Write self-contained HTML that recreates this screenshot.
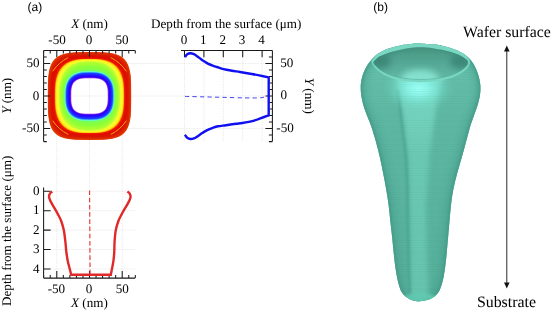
<!DOCTYPE html>
<html lang="en"><head><meta charset="utf-8"><title>Figure</title>
<style>
html,body{margin:0;padding:0;background:#fff;}
body{width:551px;height:311px;overflow:hidden;}
svg{display:block;}
.s{font-family:"Liberation Serif","Times New Roman",serif;font-size:13.1px;fill:#000;}
.b{font-family:"Liberation Serif","Times New Roman",serif;font-size:15.9px;fill:#000;}
.h{font-family:"Liberation Sans",Arial,sans-serif;font-size:12px;fill:#000;}
text{text-rendering:geometricPrecision;}
.i{font-style:italic;}
.ax{stroke:#1a1a1a;stroke-width:1.05;fill:none;}
.g{stroke:#d6d6d6;stroke-width:0.6;stroke-dasharray:0.8 0.8;fill:none;}
</style></head><body>
<svg width="551" height="311" viewBox="0 0 551 311">
<defs>
<filter id="bl1" x="-20%" y="-20%" width="140%" height="140%"><feGaussianBlur stdDeviation="0.5"/></filter>
<filter id="bl3" x="-30%" y="-30%" width="160%" height="160%"><feGaussianBlur stdDeviation="3"/></filter>
<filter id="bl5" x="-30%" y="-30%" width="160%" height="160%"><feGaussianBlur stdDeviation="5"/></filter>
<filter id="bl2" x="-30%" y="-30%" width="160%" height="160%"><feGaussianBlur stdDeviation="1.6"/></filter>
<filter id="bl03" x="-30%" y="-30%" width="160%" height="160%"><feGaussianBlur stdDeviation="0.35"/></filter>
<filter id="bl25" x="-40%" y="-10%" width="180%" height="120%"><feGaussianBlur stdDeviation="2.6 1.5"/></filter>
<filter id="bl08" x="-30%" y="-30%" width="160%" height="160%"><feGaussianBlur stdDeviation="0.8"/></filter>
</defs>
<rect x="0" y="0" width="551" height="311" fill="#ffffff"/>
<path class="g" d="M56.79 50.4V278.1M43.6 128.57H272.4M89.5 50.4V278.1M43.6 96H272.4M122.21 50.4V278.1M43.6 63.43H272.4M184.5 50.4V141.6M43.6 191.3H135.2M203.9 50.4V141.6M43.6 210.7H135.2M223.3 50.4V141.6M43.6 230.1H135.2M242.7 50.4V141.6M43.6 249.5H135.2M262.1 50.4V141.6M43.6 268.9H135.2"/>
<g>
<path d="M131.2 96L131.07 110.28L130.66 116.31L129.98 120.87L129.03 124.61L127.79 127.76L126.26 130.45L124.41 132.75L122.23 134.69L119.67 136.31L116.68 137.61L113.13 138.62L108.8 139.33L103.07 139.76L89.5 139.9L75.93 139.76L70.2 139.33L65.87 138.62L62.32 137.61L59.33 136.31L56.77 134.69L54.59 132.75L52.74 130.45L51.21 127.76L49.97 124.61L49.02 120.87L48.34 116.31L47.93 110.28L47.8 96L47.93 81.72L48.34 75.69L49.02 71.13L49.97 67.39L51.21 64.24L52.74 61.55L54.59 59.25L56.77 57.31L59.33 55.69L62.32 54.39L65.87 53.38L70.2 52.67L75.93 52.24L89.5 52.1L103.07 52.24L108.8 52.67L113.13 53.38L116.68 54.39L119.67 55.69L122.23 57.31L124.41 59.25L126.26 61.55L127.79 64.24L129.03 67.39L129.98 71.13L130.66 75.69L131.07 81.72Z" fill="#e63e00"/>
<path d="M130.85 96L130.72 110.06L130.31 116.04L129.64 120.57L128.68 124.29L127.45 127.43L125.92 130.11L124.08 132.4L121.9 134.33L119.36 135.94L116.37 137.24L112.84 138.25L108.54 138.96L102.86 139.38L89.5 139.53L76.14 139.38L70.46 138.96L66.16 138.25L62.63 137.24L59.64 135.94L57.1 134.33L54.92 132.4L53.08 130.11L51.55 127.43L50.32 124.29L49.36 120.57L48.69 116.04L48.28 110.06L48.15 96L48.28 81.94L48.69 75.96L49.36 71.43L50.32 67.71L51.55 64.57L53.08 61.89L54.92 59.6L57.1 57.67L59.64 56.06L62.63 54.76L66.16 53.75L70.46 53.04L76.14 52.62L89.5 52.48L102.86 52.62L108.54 53.04L112.84 53.75L116.37 54.76L119.36 56.06L121.9 57.67L124.08 59.6L125.92 61.89L127.45 64.57L128.68 67.71L129.64 71.43L130.31 75.96L130.72 81.94Z" fill="#e43800"/>
<path d="M130.5 96L130.37 109.84L129.96 115.77L129.29 120.27L128.34 123.96L127.11 127.09L125.58 129.76L123.74 132.04L121.58 133.97L119.04 135.58L116.07 136.87L112.56 137.87L108.28 138.58L102.65 139.01L89.5 139.15L76.35 139.01L70.72 138.58L66.44 137.87L62.93 136.87L59.96 135.58L57.42 133.97L55.26 132.04L53.42 129.76L51.89 127.09L50.66 123.96L49.71 120.27L49.04 115.77L48.63 109.84L48.5 96L48.63 82.16L49.04 76.23L49.71 71.73L50.66 68.04L51.89 64.91L53.42 62.24L55.26 59.96L57.42 58.03L59.96 56.42L62.93 55.13L66.44 54.13L70.72 53.42L76.35 52.99L89.5 52.85L102.65 52.99L108.28 53.42L112.56 54.13L116.07 55.13L119.04 56.42L121.58 58.03L123.74 59.96L125.58 62.24L127.11 64.91L128.34 68.04L129.29 71.73L129.96 76.23L130.37 82.16Z" fill="#e13200"/>
<path d="M130.15 96L130.02 109.61L129.61 115.5L128.94 119.97L127.99 123.64L126.76 126.75L125.24 129.41L123.41 131.69L121.25 133.61L118.73 135.21L115.77 136.51L112.28 137.5L108.03 138.21L102.44 138.63L89.5 138.78L76.56 138.63L70.97 138.21L66.72 137.5L63.23 136.51L60.27 135.21L57.75 133.61L55.59 131.69L53.76 129.41L52.24 126.75L51.01 123.64L50.06 119.97L49.39 115.5L48.98 109.61L48.85 96L48.98 82.39L49.39 76.5L50.06 72.03L51.01 68.36L52.24 65.25L53.76 62.59L55.59 60.31L57.75 58.39L60.27 56.79L63.23 55.49L66.72 54.5L70.97 53.79L76.56 53.37L89.5 53.23L102.44 53.37L108.03 53.79L112.28 54.5L115.77 55.49L118.73 56.79L121.25 58.39L123.41 60.31L125.24 62.59L126.76 65.25L127.99 68.36L128.94 72.03L129.61 76.5L130.02 82.39Z" fill="#de2c00"/>
<path d="M129.8 96L129.67 109.39L129.27 115.23L128.59 119.67L127.65 123.32L126.42 126.42L124.9 129.07L123.08 131.33L120.93 133.25L118.41 134.85L115.47 136.14L111.99 137.13L107.77 137.84L102.23 138.26L89.5 138.4L76.77 138.26L71.23 137.84L67.01 137.13L63.53 136.14L60.59 134.85L58.07 133.25L55.92 131.33L54.1 129.07L52.58 126.42L51.35 123.32L50.41 119.67L49.73 115.23L49.33 109.39L49.2 96L49.33 82.61L49.73 76.77L50.41 72.33L51.35 68.68L52.58 65.58L54.1 62.93L55.92 60.67L58.07 58.75L60.59 57.15L63.53 55.86L67.01 54.87L71.23 54.16L76.77 53.74L89.5 53.6L102.23 53.74L107.77 54.16L111.99 54.87L115.47 55.86L118.41 57.15L120.93 58.75L123.08 60.67L124.9 62.93L126.42 65.58L127.65 68.68L128.59 72.33L129.27 76.77L129.67 82.61Z" fill="#dc2600"/>
<path d="M129.35 96L129.22 108.95L128.81 114.73L128.13 119.16L127.18 122.81L125.94 125.91L124.42 128.57L122.58 130.85L120.42 132.78L117.9 134.39L114.95 135.69L111.48 136.69L107.28 137.41L101.8 137.83L89.5 137.97L77.2 137.83L71.72 137.41L67.52 136.69L64.05 135.69L61.1 134.39L58.58 132.78L56.42 130.85L54.58 128.57L53.06 125.91L51.82 122.81L50.87 119.16L50.19 114.73L49.78 108.95L49.65 96L49.78 83.05L50.19 77.27L50.87 72.84L51.82 69.19L53.06 66.09L54.58 63.43L56.42 61.15L58.58 59.22L61.1 57.61L64.05 56.31L67.52 55.31L71.72 54.59L77.2 54.17L89.5 54.02L101.8 54.17L107.28 54.59L111.48 55.31L114.95 56.31L117.9 57.61L120.42 59.22L122.58 61.15L124.42 63.43L125.94 66.09L127.18 69.19L128.13 72.84L128.81 77.27L129.22 83.05Z" fill="#da2200"/>
<path d="M128.9 96L128.76 108.52L128.36 114.24L127.67 118.64L126.71 122.29L125.47 125.4L123.93 128.07L122.09 130.36L119.91 132.31L117.38 133.93L114.43 135.24L110.97 136.26L106.79 136.98L101.37 137.41L89.5 137.55L77.63 137.41L72.21 136.98L68.03 136.26L64.57 135.24L61.62 133.93L59.09 132.31L56.91 130.36L55.07 128.07L53.53 125.4L52.29 122.29L51.33 118.64L50.64 114.24L50.24 108.52L50.1 96L50.24 83.48L50.64 77.76L51.33 73.36L52.29 69.71L53.53 66.6L55.07 63.93L56.91 61.64L59.09 59.69L61.62 58.07L64.57 56.76L68.03 55.74L72.21 55.02L77.63 54.59L89.5 54.45L101.37 54.59L106.79 55.02L110.97 55.74L114.43 56.76L117.38 58.07L119.91 59.69L122.09 61.64L123.93 63.93L125.47 66.6L126.71 69.71L127.67 73.36L128.36 77.76L128.76 83.48Z" fill="#d91e00"/>
<path d="M128.45 96L128.31 108.08L127.9 113.74L127.21 118.13L126.24 121.78L124.99 124.89L123.44 127.57L121.59 129.88L119.4 131.84L116.86 133.47L113.91 134.79L110.46 135.82L106.3 136.54L100.94 136.98L89.5 137.12L78.06 136.98L72.7 136.54L68.54 135.82L65.09 134.79L62.14 133.47L59.6 131.84L57.41 129.88L55.56 127.57L54.01 124.89L52.76 121.78L51.79 118.13L51.1 113.74L50.69 108.08L50.55 96L50.69 83.92L51.1 78.26L51.79 73.87L52.76 70.22L54.01 67.11L55.56 64.43L57.41 62.12L59.6 60.16L62.14 58.53L65.09 57.21L68.54 56.18L72.7 55.46L78.06 55.02L89.5 54.88L100.94 55.02L106.3 55.46L110.46 56.18L113.91 57.21L116.86 58.53L119.4 60.16L121.59 62.12L123.44 64.43L124.99 67.11L126.24 70.22L127.21 73.87L127.9 78.26L128.31 83.92Z" fill="#d81a00"/>
<path d="M128 96L127.86 107.65L127.45 113.25L126.75 117.61L125.77 121.26L124.51 124.38L122.95 127.07L121.08 129.39L118.89 131.36L116.34 133.01L113.39 134.35L109.94 135.38L105.81 136.11L100.52 136.55L89.5 136.7L78.48 136.55L73.19 136.11L69.06 135.38L65.61 134.35L62.66 133.01L60.11 131.36L57.92 129.39L56.05 127.07L54.49 124.38L53.23 121.26L52.25 117.61L51.55 113.25L51.14 107.65L51 96L51.14 84.35L51.55 78.75L52.25 74.39L53.23 70.74L54.49 67.62L56.05 64.93L57.92 62.61L60.11 60.64L62.66 58.99L65.61 57.65L69.06 56.62L73.19 55.89L78.48 55.45L89.5 55.3L100.52 55.45L105.81 55.89L109.94 56.62L113.39 57.65L116.34 58.99L118.89 60.64L121.08 62.61L122.95 64.93L124.51 67.62L125.77 70.74L126.75 74.39L127.45 78.75L127.86 84.35Z" fill="#d61600"/>
<path d="M127.53 96L127.39 107.19L126.97 112.72L126.26 117.05L125.28 120.69L124 123.81L122.43 126.51L120.56 128.83L118.36 130.82L115.8 132.48L112.85 133.83L109.41 134.87L105.31 135.61L100.09 136.05L89.5 136.2L78.91 136.05L73.69 135.61L69.59 134.87L66.15 133.83L63.2 132.48L60.64 130.82L58.44 128.83L56.57 126.51L55 123.81L53.72 120.69L52.74 117.05L52.03 112.72L51.61 107.19L51.48 96L51.61 84.81L52.03 79.28L52.74 74.95L53.72 71.31L55 68.19L56.57 65.49L58.44 63.17L60.64 61.18L63.2 59.52L66.15 58.17L69.59 57.13L73.69 56.39L78.91 55.95L89.5 55.8L100.09 55.95L105.31 56.39L109.41 57.13L112.85 58.17L115.8 59.52L118.36 61.18L120.56 63.17L122.43 65.49L124 68.19L125.28 71.31L126.26 74.95L126.97 79.28L127.39 84.81Z" fill="#da1400"/>
<path d="M127.05 96L126.91 106.74L126.49 112.19L125.78 116.49L124.78 120.12L123.5 123.24L121.92 125.94L120.03 128.28L117.82 130.28L115.26 131.95L112.31 133.3L108.88 134.35L104.81 135.1L99.66 135.55L89.5 135.7L79.34 135.55L74.19 135.1L70.12 134.35L66.69 133.3L63.74 131.95L61.18 130.28L58.97 128.28L57.08 125.94L55.5 123.24L54.22 120.12L53.22 116.49L52.51 112.19L52.09 106.74L51.95 96L52.09 85.26L52.51 79.81L53.22 75.51L54.22 71.88L55.5 68.76L57.08 66.06L58.97 63.72L61.18 61.72L63.74 60.05L66.69 58.7L70.12 57.65L74.19 56.9L79.34 56.45L89.5 56.3L99.66 56.45L104.81 56.9L108.88 57.65L112.31 58.7L115.26 60.05L117.82 61.72L120.03 63.72L121.92 66.06L123.5 68.76L124.78 71.88L125.78 75.51L126.49 79.81L126.91 85.26Z" fill="#dd1100"/>
<path d="M126.58 96L126.43 106.29L126 111.66L125.29 115.93L124.29 119.54L122.99 122.66L121.4 125.38L119.5 127.72L117.28 129.73L114.72 131.41L111.77 132.78L108.35 133.84L104.31 134.6L99.24 135.05L89.5 135.2L79.76 135.05L74.69 134.6L70.65 133.84L67.23 132.78L64.28 131.41L61.72 129.73L59.5 127.72L57.6 125.38L56.01 122.66L54.71 119.54L53.71 115.93L53 111.66L52.57 106.29L52.42 96L52.57 85.71L53 80.34L53.71 76.07L54.71 72.46L56.01 69.34L57.6 66.62L59.5 64.28L61.72 62.27L64.28 60.59L67.23 59.22L70.65 58.16L74.69 57.4L79.76 56.95L89.5 56.8L99.24 56.95L104.31 57.4L108.35 58.16L111.77 59.22L114.72 60.59L117.28 62.27L119.5 64.28L121.4 66.62L122.99 69.34L124.29 72.46L125.29 76.07L126 80.34L126.43 85.71Z" fill="#e00e00"/>
<path d="M126.1 96L125.96 105.85L125.52 111.13L124.8 115.36L123.79 118.97L122.49 122.09L120.88 124.81L118.97 127.16L116.74 129.18L114.17 130.88L111.22 132.26L107.81 133.33L103.81 134.09L98.81 134.55L89.5 134.7L80.19 134.55L75.19 134.09L71.19 133.33L67.78 132.26L64.83 130.88L62.26 129.18L60.03 127.16L58.12 124.81L56.51 122.09L55.21 118.97L54.2 115.36L53.48 111.13L53.04 105.85L52.9 96L53.04 86.15L53.48 80.87L54.2 76.64L55.21 73.03L56.51 69.91L58.12 67.19L60.03 64.84L62.26 62.82L64.83 61.12L67.78 59.74L71.19 58.67L75.19 57.91L80.19 57.45L89.5 57.3L98.81 57.45L103.81 57.91L107.81 58.67L111.22 59.74L114.17 61.12L116.74 62.82L118.97 64.84L120.88 67.19L122.49 69.91L123.79 73.03L124.8 76.64L125.52 80.87L125.96 86.15Z" fill="#e40c00"/>
<path d="M125.7 96L125.56 105.55L125.12 110.77L124.4 114.98L123.38 118.57L122.07 121.69L120.46 124.41L118.55 126.78L116.32 128.8L113.75 130.51L110.8 131.89L107.42 132.97L103.44 133.74L98.51 134.2L89.5 134.35L80.49 134.2L75.56 133.74L71.58 132.97L68.2 131.89L65.25 130.51L62.68 128.8L60.45 126.78L58.54 124.41L56.93 121.69L55.62 118.57L54.6 114.98L53.88 110.77L53.44 105.55L53.3 96L53.44 86.45L53.88 81.23L54.6 77.02L55.62 73.43L56.93 70.31L58.54 67.59L60.45 65.22L62.68 63.2L65.25 61.49L68.2 60.11L71.58 59.03L75.56 58.26L80.49 57.8L89.5 57.65L98.51 57.8L103.44 58.26L107.42 59.03L110.8 60.11L113.75 61.49L116.32 63.2L118.55 65.22L120.46 67.59L122.07 70.31L123.38 73.43L124.4 77.02L125.12 81.23L125.56 86.45Z" fill="#e61100"/>
<path d="M125.3 96L125.15 105.25L124.72 110.41L123.99 114.59L122.97 118.17L121.66 121.29L120.04 124.02L118.13 126.39L115.89 128.42L113.33 130.13L110.39 131.53L107.02 132.61L103.08 133.38L98.22 133.85L89.5 134L80.78 133.85L75.92 133.38L71.98 132.61L68.61 131.53L65.67 130.13L63.11 128.42L60.87 126.39L58.96 124.02L57.34 121.29L56.03 118.17L55.01 114.59L54.28 110.41L53.85 105.25L53.7 96L53.85 86.75L54.28 81.59L55.01 77.41L56.03 73.83L57.34 70.71L58.96 67.98L60.87 65.61L63.11 63.58L65.67 61.87L68.61 60.47L71.98 59.39L75.92 58.62L80.78 58.15L89.5 58L98.22 58.15L103.08 58.62L107.02 59.39L110.39 60.47L113.33 61.87L115.89 63.58L118.13 65.61L120.04 67.98L121.66 70.71L122.97 73.83L123.99 77.41L124.72 81.59L125.15 86.75Z" fill="#e91600"/>
<path d="M124.9 96L124.75 104.96L124.32 110.05L123.58 114.21L122.56 117.78L121.24 120.89L119.62 123.62L117.7 126L115.47 128.04L112.9 129.76L109.97 131.16L106.62 132.25L102.71 133.03L97.92 133.49L89.5 133.65L81.08 133.49L76.29 133.03L72.38 132.25L69.03 131.16L66.1 129.76L63.53 128.04L61.3 126L59.38 123.62L57.76 120.89L56.44 117.78L55.42 114.21L54.68 110.05L54.25 104.96L54.1 96L54.25 87.04L54.68 81.95L55.42 77.79L56.44 74.22L57.76 71.11L59.38 68.38L61.3 66L63.53 63.96L66.1 62.24L69.03 60.84L72.38 59.75L76.29 58.97L81.08 58.51L89.5 58.35L97.92 58.51L102.71 58.97L106.62 59.75L109.97 60.84L112.9 62.24L115.47 63.96L117.7 66L119.62 68.38L121.24 71.11L122.56 74.22L123.58 77.79L124.32 81.95L124.75 87.04Z" fill="#ec1b00"/>
<path d="M124.5 96L124.35 104.66L123.91 109.7L123.18 113.82L122.15 117.38L120.83 120.49L119.2 123.22L117.28 125.61L115.04 127.66L112.48 129.38L109.56 130.79L106.22 131.89L102.35 132.67L97.63 133.14L89.5 133.3L81.37 133.14L76.65 132.67L72.78 131.89L69.44 130.79L66.52 129.38L63.96 127.66L61.72 125.61L59.8 123.22L58.17 120.49L56.85 117.38L55.82 113.82L55.09 109.7L54.65 104.66L54.5 96L54.65 87.34L55.09 82.3L55.82 78.18L56.85 74.62L58.17 71.51L59.8 68.78L61.72 66.39L63.96 64.34L66.52 62.62L69.44 61.21L72.78 60.11L76.65 59.33L81.37 58.86L89.5 58.7L97.63 58.86L102.35 59.33L106.22 60.11L109.56 61.21L112.48 62.62L115.04 64.34L117.28 66.39L119.2 68.78L120.83 71.51L122.15 74.62L123.18 78.18L123.91 82.3L124.35 87.34Z" fill="#ee2000"/>
<path d="M124.33 96L124.18 104.53L123.74 109.54L123 113.65L121.97 117.21L120.64 120.32L119.01 123.06L117.09 125.45L114.85 127.51L112.28 129.24L109.37 130.66L106.04 131.76L102.18 132.55L97.49 133.02L89.5 133.18L81.51 133.02L76.82 132.55L72.96 131.76L69.63 130.66L66.72 129.24L64.15 127.51L61.91 125.45L59.99 123.06L58.36 120.32L57.03 117.21L56 113.65L55.26 109.54L54.82 104.53L54.67 96L54.82 87.47L55.26 82.46L56 78.35L57.03 74.79L58.36 71.68L59.99 68.94L61.91 66.55L64.15 64.49L66.72 62.76L69.63 61.34L72.96 60.24L76.82 59.45L81.51 58.98L89.5 58.83L97.49 58.98L102.18 59.45L106.04 60.24L109.37 61.34L112.28 62.76L114.85 64.49L117.09 66.55L119.01 68.94L120.64 71.68L121.97 74.79L123 78.35L123.74 82.46L124.18 87.47Z" fill="#f24000"/>
<path d="M124.15 96L124 104.4L123.56 109.38L122.82 113.48L121.78 117.03L120.45 120.15L118.82 122.9L116.89 125.29L114.65 127.36L112.09 129.1L109.17 130.52L105.85 131.63L102.01 132.42L97.35 132.89L89.5 133.05L81.65 132.89L76.99 132.42L73.15 131.63L69.83 130.52L66.91 129.1L64.35 127.36L62.11 125.29L60.18 122.9L58.55 120.15L57.22 117.03L56.18 113.48L55.44 109.38L55 104.4L54.85 96L55 87.6L55.44 82.62L56.18 78.52L57.22 74.97L58.55 71.85L60.18 69.1L62.11 66.71L64.35 64.64L66.91 62.9L69.83 61.48L73.15 60.37L76.99 59.58L81.65 59.11L89.5 58.95L97.35 59.11L102.01 59.58L105.85 60.37L109.17 61.48L112.09 62.9L114.65 64.64L116.89 66.71L118.82 69.1L120.45 71.85L121.78 74.97L122.82 78.52L123.56 82.62L124 87.6Z" fill="#f66000"/>
<path d="M123.97 96L123.83 104.26L123.38 109.22L122.64 113.31L121.6 116.86L120.27 119.98L118.64 122.73L116.7 125.13L114.46 127.21L111.89 128.95L108.98 130.38L105.66 131.5L101.84 132.29L97.21 132.77L89.5 132.93L81.79 132.77L77.16 132.29L73.34 131.5L70.02 130.38L67.11 128.95L64.54 127.21L62.3 125.13L60.36 122.73L58.73 119.98L57.4 116.86L56.36 113.31L55.62 109.22L55.17 104.26L55.03 96L55.17 87.74L55.62 82.78L56.36 78.69L57.4 75.14L58.73 72.02L60.36 69.27L62.3 66.87L64.54 64.79L67.11 63.05L70.02 61.62L73.34 60.5L77.16 59.71L81.79 59.23L89.5 59.08L97.21 59.23L101.84 59.71L105.66 60.5L108.98 61.62L111.89 63.05L114.46 64.79L116.7 66.87L118.64 69.27L120.27 72.02L121.6 75.14L122.64 78.69L123.38 82.78L123.83 87.74Z" fill="#fb8000"/>
<path d="M123.8 96L123.65 104.13L123.2 109.05L122.46 113.14L121.42 116.69L120.08 119.81L118.45 122.57L116.51 124.98L114.26 127.06L111.7 128.81L108.78 130.25L105.48 131.36L101.67 132.16L97.08 132.64L89.5 132.8L81.92 132.64L77.33 132.16L73.52 131.36L70.22 130.25L67.3 128.81L64.74 127.06L62.49 124.98L60.55 122.57L58.92 119.81L57.58 116.69L56.54 113.14L55.8 109.05L55.35 104.13L55.2 96L55.35 87.87L55.8 82.95L56.54 78.86L57.58 75.31L58.92 72.19L60.55 69.43L62.49 67.02L64.74 64.94L67.3 63.19L70.22 61.75L73.52 60.64L77.33 59.84L81.92 59.36L89.5 59.2L97.08 59.36L101.67 59.84L105.48 60.64L108.78 61.75L111.7 63.19L114.26 64.94L116.51 67.02L118.45 69.43L120.08 72.19L121.42 75.31L122.46 78.86L123.2 82.95L123.65 87.87Z" fill="#ffa000"/>
<path d="M123.62 96L123.48 104L123.03 108.89L122.28 112.97L121.24 116.52L119.9 119.64L118.26 122.4L116.31 124.82L114.07 126.9L111.5 128.67L108.59 130.11L105.29 131.23L101.5 132.03L96.94 132.51L89.5 132.68L82.06 132.51L77.5 132.03L73.71 131.23L70.41 130.11L67.5 128.67L64.93 126.9L62.69 124.82L60.74 122.4L59.1 119.64L57.76 116.52L56.72 112.97L55.97 108.89L55.52 104L55.38 96L55.52 88L55.97 83.11L56.72 79.03L57.76 75.48L59.1 72.36L60.74 69.6L62.69 67.18L64.93 65.1L67.5 63.33L70.41 61.89L73.71 60.77L77.5 59.97L82.06 59.49L89.5 59.33L96.94 59.49L101.5 59.97L105.29 60.77L108.59 61.89L111.5 63.33L114.07 65.1L116.31 67.18L118.26 69.6L119.9 72.36L121.24 75.48L122.28 79.03L123.03 83.11L123.48 88Z" fill="#ffb408"/>
<path d="M123.45 96L123.3 103.86L122.85 108.73L122.1 112.8L121.05 116.34L119.71 119.47L118.06 122.24L116.12 124.66L113.87 126.75L111.3 128.52L108.4 129.97L105.1 131.1L101.33 131.9L96.8 132.39L89.5 132.55L82.2 132.39L77.67 131.9L73.9 131.1L70.6 129.97L67.7 128.52L65.13 126.75L62.88 124.66L60.94 122.24L59.29 119.47L57.95 116.34L56.9 112.8L56.15 108.73L55.7 103.86L55.55 96L55.7 88.14L56.15 83.27L56.9 79.2L57.95 75.66L59.29 72.53L60.94 69.76L62.88 67.34L65.13 65.25L67.7 63.48L70.6 62.03L73.9 60.9L77.67 60.1L82.2 59.61L89.5 59.45L96.8 59.61L101.33 60.1L105.1 60.9L108.4 62.03L111.3 63.48L113.87 65.25L116.12 67.34L118.06 69.76L119.71 72.53L121.05 75.66L122.1 79.2L122.85 83.27L123.3 88.14Z" fill="#ffc810"/>
<path d="M123.28 96L123.12 103.73L122.67 108.57L121.92 112.63L120.87 116.17L119.52 119.3L117.87 122.07L115.93 124.5L113.67 126.6L111.11 128.38L108.2 129.83L104.92 130.97L101.16 131.78L96.67 132.26L89.5 132.43L82.33 132.26L77.84 131.78L74.08 130.97L70.8 129.83L67.89 128.38L65.33 126.6L63.07 124.5L61.13 122.07L59.48 119.3L58.13 116.17L57.08 112.63L56.33 108.57L55.88 103.73L55.73 96L55.88 88.27L56.33 83.43L57.08 79.37L58.13 75.83L59.48 72.7L61.13 69.93L63.07 67.5L65.33 65.4L67.89 63.62L70.8 62.17L74.08 61.03L77.84 60.22L82.33 59.74L89.5 59.58L96.67 59.74L101.16 60.22L104.92 61.03L108.2 62.17L111.11 63.62L113.67 65.4L115.93 67.5L117.87 69.93L119.52 72.7L120.87 75.83L121.92 79.37L122.67 83.43L123.12 88.27Z" fill="#ffdc18"/>
<path d="M123.1 96L122.95 103.6L122.5 108.41L121.74 112.45L120.69 115.99L119.34 119.13L117.68 121.9L115.73 124.34L113.48 126.45L110.91 128.23L108.01 129.69L104.73 130.83L100.99 131.65L96.53 132.14L89.5 132.3L82.47 132.14L78.01 131.65L74.27 130.83L70.99 129.69L68.09 128.23L65.52 126.45L63.27 124.34L61.32 121.9L59.66 119.13L58.31 115.99L57.26 112.45L56.5 108.41L56.05 103.6L55.9 96L56.05 88.4L56.5 83.59L57.26 79.55L58.31 76.01L59.66 72.87L61.32 70.1L63.27 67.66L65.52 65.55L68.09 63.77L70.99 62.31L74.27 61.17L78.01 60.35L82.47 59.86L89.5 59.7L96.53 59.86L100.99 60.35L104.73 61.17L108.01 62.31L110.91 63.77L113.48 65.55L115.73 67.66L117.68 70.1L119.34 72.87L120.69 76.01L121.74 79.55L122.5 83.59L122.95 88.4Z" fill="#fff020"/>
<path d="M122.5 96L122.35 103.33L121.9 108.08L121.14 112.1L120.09 115.63L118.74 118.77L117.09 121.55L115.15 124L112.9 126.12L110.35 127.92L107.48 129.39L104.24 130.54L100.56 131.37L96.21 131.86L89.5 132.03L82.79 131.86L78.44 131.37L74.76 130.54L71.52 129.39L68.65 127.92L66.1 126.12L63.85 124L61.91 121.55L60.26 118.77L58.91 115.63L57.86 112.1L57.1 108.08L56.65 103.33L56.5 96L56.65 88.67L57.1 83.92L57.86 79.9L58.91 76.37L60.26 73.23L61.91 70.45L63.85 68L66.1 65.88L68.65 64.08L71.52 62.61L74.76 61.46L78.44 60.63L82.79 60.14L89.5 59.98L96.21 60.14L100.56 60.63L104.24 61.46L107.48 62.61L110.35 64.08L112.9 65.88L115.15 68L117.09 70.45L118.74 73.23L120.09 76.37L121.14 79.9L121.9 83.92L122.35 88.67Z" fill="#fdf424"/>
<path d="M121.9 96L121.75 103.06L121.3 107.74L120.54 111.74L119.49 115.26L118.14 118.4L116.5 121.19L114.56 123.66L112.33 125.79L109.8 127.6L106.96 129.09L103.76 130.25L100.14 131.08L95.9 131.58L89.5 131.75L83.1 131.58L78.86 131.08L75.24 130.25L72.04 129.09L69.2 127.6L66.67 125.79L64.44 123.66L62.5 121.19L60.86 118.4L59.51 115.26L58.46 111.74L57.7 107.74L57.25 103.06L57.1 96L57.25 88.94L57.7 84.26L58.46 80.26L59.51 76.74L60.86 73.6L62.5 70.81L64.44 68.34L66.67 66.21L69.2 64.4L72.04 62.91L75.24 61.75L78.86 60.92L83.1 60.42L89.5 60.25L95.9 60.42L100.14 60.92L103.76 61.75L106.96 62.91L109.8 64.4L112.33 66.21L114.56 68.34L116.5 70.81L118.14 73.6L119.49 76.74L120.54 80.26L121.3 84.26L121.75 88.94Z" fill="#fcf828"/>
<path d="M121.3 96L121.15 102.8L120.7 107.41L119.94 111.37L118.89 114.89L117.55 118.03L115.91 120.84L113.98 123.31L111.76 125.46L109.25 127.29L106.43 128.79L103.28 129.96L99.73 130.8L95.59 131.31L89.5 131.47L83.41 131.31L79.27 130.8L75.72 129.96L72.57 128.79L69.75 127.29L67.24 125.46L65.02 123.31L63.09 120.84L61.45 118.03L60.11 114.89L59.06 111.37L58.3 107.41L57.85 102.8L57.7 96L57.85 89.2L58.3 84.59L59.06 80.63L60.11 77.11L61.45 73.97L63.09 71.16L65.02 68.69L67.24 66.54L69.75 64.71L72.57 63.21L75.72 62.04L79.27 61.2L83.41 60.69L89.5 60.52L95.59 60.69L99.73 61.2L103.28 62.04L106.43 63.21L109.25 64.71L111.76 66.54L113.98 68.69L115.91 71.16L117.55 73.97L118.89 77.11L119.94 80.63L120.7 84.59L121.15 89.2Z" fill="#fafb2c"/>
<path d="M120.7 96L120.55 102.53L120.1 107.08L119.34 111.01L118.29 114.52L116.95 117.66L115.32 120.47L113.4 122.96L111.19 125.13L108.7 126.97L105.91 128.49L102.81 129.67L99.32 130.52L95.29 131.03L89.5 131.2L83.71 131.03L79.68 130.52L76.19 129.67L73.09 128.49L70.3 126.97L67.81 125.13L65.6 122.96L63.68 120.47L62.05 117.66L60.71 114.52L59.66 111.01L58.9 107.08L58.45 102.53L58.3 96L58.45 89.47L58.9 84.92L59.66 80.99L60.71 77.48L62.05 74.34L63.68 71.53L65.6 69.04L67.81 66.87L70.3 65.03L73.09 63.51L76.19 62.33L79.68 61.48L83.71 60.97L89.5 60.8L95.29 60.97L99.32 61.48L102.81 62.33L105.91 63.51L108.7 65.03L111.19 66.87L113.4 69.04L115.32 71.53L116.95 74.34L118.29 77.48L119.34 80.99L120.1 84.92L120.55 89.47Z" fill="#f8ff30"/>
<path d="M120.4 96L120.25 102.38L119.8 106.88L119.04 110.78L118 114.27L116.65 117.41L115.02 120.22L113.11 122.7L110.91 124.87L108.43 126.71L105.65 128.23L102.57 129.42L99.12 130.27L95.14 130.78L89.5 130.95L83.86 130.78L79.88 130.27L76.43 129.42L73.35 128.23L70.57 126.71L68.09 124.87L65.89 122.7L63.98 120.22L62.35 117.41L61 114.27L59.96 110.78L59.2 106.88L58.75 102.38L58.6 96L58.75 89.62L59.2 85.12L59.96 81.22L61 77.73L62.35 74.59L63.98 71.78L65.89 69.3L68.09 67.13L70.57 65.29L73.35 63.77L76.43 62.58L79.88 61.73L83.86 61.22L89.5 61.05L95.14 61.22L99.12 61.73L102.57 62.58L105.65 63.77L108.43 65.29L110.91 67.13L113.11 69.3L115.02 71.78L116.65 74.59L118 77.73L119.04 81.22L119.8 85.12L120.25 89.62Z" fill="#e7ff30"/>
<path d="M120.1 96L119.95 102.23L119.5 106.68L118.74 110.55L117.7 114.03L116.36 117.15L114.73 119.96L112.82 122.44L110.63 124.61L108.15 126.45L105.4 127.97L102.33 129.16L98.92 130.02L94.99 130.53L89.5 130.7L84.01 130.53L80.08 130.02L76.67 129.16L73.6 127.97L70.85 126.45L68.37 124.61L66.18 122.44L64.27 119.96L62.64 117.15L61.3 114.03L60.26 110.55L59.5 106.68L59.05 102.23L58.9 96L59.05 89.77L59.5 85.32L60.26 81.45L61.3 77.97L62.64 74.85L64.27 72.04L66.18 69.56L68.37 67.39L70.85 65.55L73.6 64.03L76.67 62.84L80.08 61.98L84.01 61.47L89.5 61.3L94.99 61.47L98.92 61.98L102.33 62.84L105.4 64.03L108.15 65.55L110.63 67.39L112.82 69.56L114.73 72.04L116.36 74.85L117.7 77.97L118.74 81.45L119.5 85.32L119.95 89.77Z" fill="#d6ff30"/>
<path d="M119.8 96L119.65 102.08L119.2 106.48L118.45 110.33L117.4 113.78L116.06 116.9L114.43 119.7L112.53 122.18L110.34 124.35L107.88 126.2L105.14 127.72L102.1 128.91L98.72 129.76L94.85 130.28L89.5 130.45L84.15 130.28L80.28 129.76L76.9 128.91L73.86 127.72L71.12 126.2L68.66 124.35L66.47 122.18L64.57 119.7L62.94 116.9L61.6 113.78L60.55 110.33L59.8 106.48L59.35 102.08L59.2 96L59.35 89.92L59.8 85.52L60.55 81.67L61.6 78.22L62.94 75.1L64.57 72.3L66.47 69.82L68.66 67.65L71.12 65.8L73.86 64.28L76.9 63.09L80.28 62.24L84.15 61.72L89.5 61.55L94.85 61.72L98.72 62.24L102.1 63.09L105.14 64.28L107.88 65.8L110.34 67.65L112.53 69.82L114.43 72.3L116.06 75.1L117.4 78.22L118.45 81.67L119.2 85.52L119.65 89.92Z" fill="#c5ff30"/>
<path d="M119.5 96L119.35 101.93L118.9 106.28L118.15 110.1L117.1 113.54L115.76 116.64L114.14 119.44L112.24 121.92L110.06 124.09L107.61 125.94L104.88 127.46L101.87 128.66L98.52 129.51L94.7 130.03L89.5 130.2L84.3 130.03L80.48 129.51L77.13 128.66L74.12 127.46L71.39 125.94L68.94 124.09L66.76 121.92L64.86 119.44L63.24 116.64L61.9 113.54L60.85 110.1L60.1 106.28L59.65 101.93L59.5 96L59.65 90.07L60.1 85.72L60.85 81.9L61.9 78.46L63.24 75.36L64.86 72.56L66.76 70.08L68.94 67.91L71.39 66.06L74.12 64.54L77.13 63.34L80.48 62.49L84.3 61.97L89.5 61.8L94.7 61.97L98.52 62.49L101.87 63.34L104.88 64.54L107.61 66.06L110.06 67.91L112.24 70.08L114.14 72.56L115.76 75.36L117.1 78.46L118.15 81.9L118.9 85.72L119.35 90.07Z" fill="#b4ff30"/>
<path d="M118.88 96L118.73 101.75L118.28 105.96L117.55 109.66L116.52 113L115.21 116.01L113.63 118.72L111.76 121.12L109.63 123.23L107.23 125.02L104.56 126.5L101.61 127.65L98.33 128.48L94.6 128.98L89.5 129.15L84.4 128.98L80.67 128.48L77.39 127.65L74.44 126.5L71.77 125.02L69.37 123.23L67.24 121.12L65.37 118.72L63.79 116.01L62.48 113L61.45 109.66L60.72 105.96L60.27 101.75L60.12 96L60.27 90.25L60.72 86.04L61.45 82.34L62.48 79L63.79 75.99L65.37 73.28L67.24 70.88L69.37 68.77L71.77 66.98L74.44 65.5L77.39 64.35L80.67 63.52L84.4 63.02L89.5 62.85L94.6 63.02L98.33 63.52L101.61 64.35L104.56 65.5L107.23 66.98L109.63 68.77L111.76 70.88L113.63 73.28L115.21 75.99L116.52 79L117.55 82.34L118.28 86.04L118.73 90.25Z" fill="#aaff32"/>
<path d="M118.25 96L118.11 101.57L117.67 105.65L116.95 109.23L115.95 112.46L114.67 115.38L113.11 118L111.29 120.33L109.2 122.36L106.85 124.1L104.24 125.53L101.35 126.65L98.14 127.45L94.49 127.94L89.5 128.1L84.51 127.94L80.86 127.45L77.65 126.65L74.76 125.53L72.15 124.1L69.8 122.36L67.71 120.33L65.89 118L64.33 115.38L63.05 112.46L62.05 109.23L61.33 105.65L60.89 101.57L60.75 96L60.89 90.43L61.33 86.35L62.05 82.77L63.05 79.54L64.33 76.62L65.89 74L67.71 71.67L69.8 69.64L72.15 67.9L74.76 66.47L77.65 65.35L80.86 64.55L84.51 64.06L89.5 63.9L94.49 64.06L98.14 64.55L101.35 65.35L104.24 66.47L106.85 67.9L109.2 69.64L111.29 71.67L113.11 74L114.67 76.62L115.95 79.54L116.95 82.77L117.67 86.35L118.11 90.43Z" fill="#a0ff34"/>
<path d="M117.62 96L117.48 101.39L117.06 105.33L116.36 108.8L115.37 111.92L114.12 114.74L112.6 117.28L110.81 119.53L108.77 121.5L106.48 123.18L103.92 124.56L101.09 125.65L97.95 126.43L94.38 126.89L89.5 127.05L84.62 126.89L81.05 126.43L77.91 125.65L75.08 124.56L72.52 123.18L70.23 121.5L68.19 119.53L66.4 117.28L64.88 114.74L63.63 111.92L62.64 108.8L61.94 105.33L61.52 101.39L61.38 96L61.52 90.61L61.94 86.67L62.64 83.2L63.63 80.08L64.88 77.26L66.4 74.72L68.19 72.47L70.23 70.5L72.52 68.82L75.08 67.44L77.91 66.35L81.05 65.57L84.62 65.11L89.5 64.95L94.38 65.11L97.95 65.57L101.09 66.35L103.92 67.44L106.48 68.82L108.77 70.5L110.81 72.47L112.6 74.72L114.12 77.26L115.37 80.08L116.36 83.2L117.06 86.67L117.48 90.61Z" fill="#96ff36"/>
<path d="M117 96L116.86 101.2L116.45 105.02L115.76 108.37L114.8 111.38L113.57 114.11L112.09 116.56L110.34 118.74L108.35 120.64L106.1 122.26L103.6 123.6L100.84 124.65L97.76 125.4L94.27 125.85L89.5 126L84.73 125.85L81.24 125.4L78.16 124.65L75.4 123.6L72.9 122.26L70.65 120.64L68.66 118.74L66.91 116.56L65.43 114.11L64.2 111.38L63.24 108.37L62.55 105.02L62.14 101.2L62 96L62.14 90.8L62.55 86.98L63.24 83.63L64.2 80.62L65.43 77.89L66.91 75.44L68.66 73.26L70.65 71.36L72.9 69.74L75.4 68.4L78.16 67.35L81.24 66.6L84.73 66.15L89.5 66L94.27 66.15L97.76 66.6L100.84 67.35L103.6 68.4L106.1 69.74L108.35 71.36L110.34 73.26L112.09 75.44L113.57 77.89L114.8 80.62L115.76 83.63L116.45 86.98L116.86 90.8Z" fill="#8cff38"/>
<path d="M116.45 96L116.32 101.1L115.91 104.79L115.24 108.02L114.31 110.92L113.12 113.53L111.68 115.88L109.98 117.96L108.04 119.78L105.85 121.33L103.41 122.61L100.71 123.61L97.7 124.32L94.26 124.76L89.5 124.9L84.74 124.76L81.3 124.32L78.29 123.61L75.59 122.61L73.15 121.33L70.96 119.78L69.02 117.96L67.32 115.88L65.88 113.53L64.69 110.92L63.76 108.02L63.09 104.79L62.68 101.1L62.55 96L62.68 90.9L63.09 87.21L63.76 83.98L64.69 81.08L65.88 78.47L67.32 76.12L69.02 74.04L70.96 72.22L73.15 70.67L75.59 69.39L78.29 68.39L81.3 67.68L84.74 67.24L89.5 67.1L94.26 67.24L97.7 67.68L100.71 68.39L103.41 69.39L105.85 70.67L108.04 72.22L109.98 74.04L111.68 76.12L113.12 78.47L114.31 81.08L115.24 83.98L115.91 87.21L116.32 90.9Z" fill="#87ff40"/>
<path d="M115.9 96L115.77 100.99L115.38 104.55L114.73 107.66L113.83 110.44L112.67 112.95L111.27 115.19L109.62 117.18L107.73 118.92L105.59 120.4L103.21 121.62L100.57 122.57L97.62 123.25L94.24 123.66L89.5 123.8L84.76 123.66L81.38 123.25L78.43 122.57L75.79 121.62L73.41 120.4L71.27 118.92L69.38 117.18L67.73 115.19L66.33 112.95L65.17 110.44L64.27 107.66L63.62 104.55L63.23 100.99L63.1 96L63.23 91.01L63.62 87.45L64.27 84.34L65.17 81.56L66.33 79.05L67.73 76.81L69.38 74.82L71.27 73.08L73.41 71.6L75.79 70.38L78.43 69.43L81.38 68.75L84.76 68.34L89.5 68.2L94.24 68.34L97.62 68.75L100.57 69.43L103.21 70.38L105.59 71.6L107.73 73.08L109.62 74.82L111.27 76.81L112.67 79.05L113.83 81.56L114.73 84.34L115.38 87.45L115.77 91.01Z" fill="#82ff48"/>
<path d="M115.35 96L115.22 100.87L114.85 104.31L114.22 107.29L113.34 109.96L112.22 112.35L110.85 114.5L109.25 116.4L107.41 118.05L105.33 119.46L103.01 120.62L100.43 121.53L97.55 122.18L94.22 122.57L89.5 122.7L84.78 122.57L81.45 122.18L78.57 121.53L75.99 120.62L73.67 119.46L71.59 118.05L69.75 116.4L68.15 114.5L66.78 112.35L65.66 109.96L64.78 107.29L64.15 104.31L63.78 100.87L63.65 96L63.78 91.13L64.15 87.69L64.78 84.71L65.66 82.04L66.78 79.65L68.15 77.5L69.75 75.6L71.59 73.95L73.67 72.54L75.99 71.38L78.57 70.47L81.45 69.82L84.78 69.43L89.5 69.3L94.22 69.43L97.55 69.82L100.43 70.47L103.01 71.38L105.33 72.54L107.41 73.95L109.25 75.6L110.85 77.5L112.22 79.65L113.34 82.04L114.22 84.71L114.85 87.69L115.22 91.13Z" fill="#7dff50"/>
<path d="M114.8 96L114.68 100.75L114.31 104.06L113.7 106.92L112.85 109.47L111.76 111.76L110.44 113.8L108.88 115.61L107.09 117.18L105.07 118.52L102.81 119.63L100.29 120.49L97.46 121.1L94.2 121.48L89.5 121.6L84.8 121.48L81.54 121.1L78.71 120.49L76.19 119.63L73.93 118.52L71.91 117.18L70.12 115.61L68.56 113.8L67.24 111.76L66.15 109.47L65.3 106.92L64.69 104.06L64.32 100.75L64.2 96L64.32 91.25L64.69 87.94L65.3 85.08L66.15 82.53L67.24 80.24L68.56 78.2L70.12 76.39L71.91 74.82L73.93 73.48L76.19 72.37L78.71 71.51L81.54 70.9L84.8 70.52L89.5 70.4L94.2 70.52L97.46 70.9L100.29 71.51L102.81 72.37L105.07 73.48L107.09 74.82L108.88 76.39L110.44 78.2L111.76 80.24L112.85 82.53L113.7 85.08L114.31 87.94L114.68 91.25Z" fill="#78ff58"/>
<path d="M114.6 96L114.48 100.78L114.12 104.06L113.52 106.89L112.68 109.4L111.61 111.66L110.31 113.67L108.78 115.45L107.01 116.99L105.02 118.31L102.79 119.39L100.29 120.23L97.49 120.84L94.23 121.2L89.5 121.33L84.77 121.2L81.51 120.84L78.71 120.23L76.21 119.39L73.98 118.31L71.99 116.99L70.22 115.45L68.69 113.67L67.39 111.66L66.32 109.4L65.48 106.89L64.88 104.06L64.52 100.78L64.4 96L64.52 91.22L64.88 87.94L65.48 85.11L66.32 82.6L67.39 80.34L68.69 78.33L70.22 76.55L71.99 75.01L73.98 73.69L76.21 72.61L78.71 71.77L81.51 71.16L84.77 70.8L89.5 70.67L94.23 70.8L97.49 71.16L100.29 71.77L102.79 72.61L105.02 73.69L107.01 75.01L108.78 76.55L110.31 78.33L111.61 80.34L112.68 82.6L113.52 85.11L114.12 87.94L114.48 91.22Z" fill="#72ff74"/>
<path d="M114.4 96L114.28 100.8L113.93 104.06L113.34 106.86L112.52 109.34L111.46 111.56L110.18 113.54L108.67 115.28L106.93 116.8L104.97 118.09L102.76 119.15L100.29 119.98L97.51 120.57L94.27 120.93L89.5 121.05L84.73 120.93L81.49 120.57L78.71 119.98L76.24 119.15L74.03 118.09L72.07 116.8L70.33 115.28L68.82 113.54L67.54 111.56L66.48 109.34L65.66 106.86L65.07 104.06L64.72 100.8L64.6 96L64.72 91.2L65.07 87.94L65.66 85.14L66.48 82.66L67.54 80.44L68.82 78.46L70.33 76.72L72.07 75.2L74.03 73.91L76.24 72.85L78.71 72.02L81.49 71.43L84.73 71.07L89.5 70.95L94.27 71.07L97.51 71.43L100.29 72.02L102.76 72.85L104.97 73.91L106.93 75.2L108.67 76.72L110.18 78.46L111.46 80.44L112.52 82.66L113.34 85.14L113.93 87.94L114.28 91.2Z" fill="#6dff90"/>
<path d="M114.2 96L114.08 100.82L113.74 104.06L113.16 106.82L112.35 109.27L111.31 111.46L110.05 113.4L108.56 115.12L106.85 116.61L104.91 117.88L102.73 118.92L100.29 119.73L97.53 120.31L94.31 120.66L89.5 120.78L84.69 120.66L81.47 120.31L78.71 119.73L76.27 118.92L74.09 117.88L72.15 116.61L70.44 115.12L68.95 113.4L67.69 111.46L66.65 109.27L65.84 106.82L65.26 104.06L64.92 100.82L64.8 96L64.92 91.18L65.26 87.94L65.84 85.18L66.65 82.73L67.69 80.54L68.95 78.6L70.44 76.88L72.15 75.39L74.09 74.12L76.27 73.08L78.71 72.27L81.47 71.69L84.69 71.34L89.5 71.22L94.31 71.34L97.53 71.69L100.29 72.27L102.73 73.08L104.91 74.12L106.85 75.39L108.56 76.88L110.05 78.6L111.31 80.54L112.35 82.73L113.16 85.18L113.74 87.94L114.08 91.18Z" fill="#68ffac"/>
<path d="M114 96L113.89 100.84L113.54 104.05L112.97 106.78L112.18 109.2L111.16 111.35L109.92 113.27L108.45 114.95L106.77 116.42L104.85 117.66L102.7 118.68L100.28 119.47L97.55 120.04L94.34 120.39L89.5 120.5L84.66 120.39L81.45 120.04L78.72 119.47L76.3 118.68L74.15 117.66L72.23 116.42L70.55 114.95L69.08 113.27L67.84 111.35L66.82 109.2L66.03 106.78L65.46 104.05L65.11 100.84L65 96L65.11 91.16L65.46 87.95L66.03 85.22L66.82 82.8L67.84 80.65L69.08 78.73L70.55 77.05L72.23 75.58L74.15 74.34L76.3 73.32L78.72 72.53L81.45 71.96L84.66 71.61L89.5 71.5L94.34 71.61L97.55 71.96L100.28 72.53L102.7 73.32L104.85 74.34L106.77 75.58L108.45 77.05L109.92 78.73L111.16 80.65L112.18 82.8L112.97 85.22L113.54 87.95L113.89 91.16Z" fill="#62ffc8"/>
<path d="M113.83 96L113.71 100.83L113.37 104.02L112.81 106.73L112.02 109.12L111.02 111.24L109.79 113.13L108.34 114.8L106.67 116.25L104.77 117.47L102.64 118.48L100.25 119.26L97.53 119.82L94.34 120.16L89.5 120.28L84.66 120.16L81.47 119.82L78.75 119.26L76.36 118.48L74.23 117.47L72.33 116.25L70.66 114.8L69.21 113.13L67.98 111.24L66.98 109.12L66.19 106.73L65.63 104.02L65.29 100.83L65.17 96L65.29 91.17L65.63 87.98L66.19 85.27L66.98 82.88L67.98 80.76L69.21 78.87L70.66 77.2L72.33 75.75L74.23 74.53L76.36 73.52L78.75 72.74L81.47 72.18L84.66 71.84L89.5 71.72L94.34 71.84L97.53 72.18L100.25 72.74L102.64 73.52L104.77 74.53L106.67 75.75L108.34 77.2L109.79 78.87L111.02 80.76L112.02 82.88L112.81 85.27L113.37 87.98L113.71 91.17Z" fill="#58e7d6"/>
<path d="M113.65 96L113.54 100.82L113.2 103.98L112.65 106.67L111.87 109.03L110.87 111.13L109.66 113L108.23 114.65L106.57 116.08L104.7 117.29L102.58 118.28L100.21 119.05L97.52 119.61L94.34 119.94L89.5 120.05L84.66 119.94L81.48 119.61L78.79 119.05L76.42 118.28L74.3 117.29L72.43 116.08L70.77 114.65L69.34 113L68.13 111.13L67.13 109.03L66.35 106.67L65.8 103.98L65.46 100.82L65.35 96L65.46 91.18L65.8 88.02L66.35 85.33L67.13 82.97L68.13 80.87L69.34 79L70.77 77.35L72.43 75.92L74.3 74.71L76.42 73.72L78.79 72.95L81.48 72.39L84.66 72.06L89.5 71.95L94.34 72.06L97.52 72.39L100.21 72.95L102.58 73.72L104.7 74.71L106.57 75.92L108.23 77.35L109.66 79L110.87 80.87L111.87 82.97L112.65 85.33L113.2 88.02L113.54 91.18Z" fill="#4dd0e4"/>
<path d="M113.47 96L113.36 100.81L113.03 103.95L112.48 106.61L111.72 108.94L110.73 111.02L109.53 112.87L108.11 114.5L106.48 115.9L104.62 117.1L102.53 118.08L100.17 118.84L97.5 119.39L94.34 119.72L89.5 119.83L84.66 119.72L81.5 119.39L78.83 118.84L76.47 118.08L74.38 117.1L72.52 115.9L70.89 114.5L69.47 112.87L68.27 111.02L67.28 108.94L66.52 106.61L65.97 103.95L65.64 100.81L65.53 96L65.64 91.19L65.97 88.05L66.52 85.39L67.28 83.06L68.27 80.98L69.47 79.13L70.89 77.5L72.52 76.1L74.38 74.9L76.47 73.92L78.83 73.16L81.5 72.61L84.66 72.28L89.5 72.17L94.34 72.28L97.5 72.61L100.17 73.16L102.53 73.92L104.62 74.9L106.48 76.1L108.11 77.5L109.53 79.13L110.73 80.98L111.72 83.06L112.48 85.39L113.03 88.05L113.36 91.19Z" fill="#42b8f1"/>
<path d="M113.3 96L113.19 100.8L112.86 103.91L112.32 106.54L111.56 108.86L110.59 110.91L109.4 112.74L108 114.34L106.38 115.73L104.54 116.91L102.47 117.88L100.13 118.63L97.48 119.17L94.34 119.49L89.5 119.6L84.66 119.49L81.52 119.17L78.87 118.63L76.53 117.88L74.46 116.91L72.62 115.73L71 114.34L69.6 112.74L68.41 110.91L67.44 108.86L66.68 106.54L66.14 103.91L65.81 100.8L65.7 96L65.81 91.2L66.14 88.09L66.68 85.46L67.44 83.14L68.41 81.09L69.6 79.26L71 77.66L72.62 76.27L74.46 75.09L76.53 74.12L78.87 73.37L81.52 72.83L84.66 72.51L89.5 72.4L94.34 72.51L97.48 72.83L100.13 73.37L102.47 74.12L104.54 75.09L106.38 76.27L108 77.66L109.4 79.26L110.59 81.09L111.56 83.14L112.32 85.46L112.86 88.09L113.19 91.2Z" fill="#38a0ff"/>
<path d="M113.1 96L112.99 100.79L112.67 103.88L112.13 106.49L111.38 108.78L110.42 110.82L109.25 112.62L107.86 114.21L106.26 115.58L104.45 116.74L102.39 117.7L100.08 118.44L97.45 118.97L94.34 119.29L89.5 119.4L84.66 119.29L81.55 118.97L78.92 118.44L76.61 117.7L74.55 116.74L72.74 115.58L71.14 114.21L69.75 112.62L68.58 110.82L67.62 108.78L66.87 106.49L66.33 103.88L66.01 100.79L65.9 96L66.01 91.21L66.33 88.12L66.87 85.51L67.62 83.22L68.58 81.18L69.75 79.38L71.14 77.79L72.74 76.42L74.55 75.26L76.61 74.3L78.92 73.56L81.55 73.03L84.66 72.71L89.5 72.6L94.34 72.71L97.45 73.03L100.08 73.56L102.39 74.3L104.45 75.26L106.26 76.42L107.86 77.79L109.25 79.38L110.42 81.18L111.38 83.22L112.13 85.51L112.67 88.12L112.99 91.21Z" fill="#3286ff"/>
<path d="M112.9 96L112.79 100.79L112.48 103.85L111.95 106.44L111.21 108.71L110.26 110.72L109.1 112.51L107.73 114.07L106.15 115.43L104.35 116.58L102.32 117.52L100.03 118.25L97.42 118.78L94.33 119.09L89.5 119.2L84.67 119.09L81.58 118.78L78.97 118.25L76.68 117.52L74.65 116.58L72.85 115.43L71.27 114.07L69.9 112.51L68.74 110.72L67.79 108.71L67.05 106.44L66.52 103.85L66.21 100.79L66.1 96L66.21 91.21L66.52 88.15L67.05 85.56L67.79 83.29L68.74 81.28L69.9 79.49L71.27 77.93L72.85 76.57L74.65 75.42L76.68 74.48L78.97 73.75L81.58 73.22L84.67 72.91L89.5 72.8L94.33 72.91L97.42 73.22L100.03 73.75L102.32 74.48L104.35 75.42L106.15 76.57L107.73 77.93L109.1 79.49L110.26 81.28L111.21 83.29L111.95 85.56L112.48 88.15L112.79 91.21Z" fill="#2c6cff"/>
<path d="M112.7 96L112.6 100.78L112.28 103.82L111.76 106.39L111.03 108.63L110.09 110.62L108.94 112.39L107.59 113.94L106.03 115.28L104.25 116.41L102.24 117.34L99.98 118.07L97.39 118.58L94.32 118.9L89.5 119L84.68 118.9L81.61 118.58L79.02 118.07L76.76 117.34L74.75 116.41L72.97 115.28L71.41 113.94L70.06 112.39L68.91 110.62L67.97 108.63L67.24 106.39L66.72 103.82L66.4 100.78L66.3 96L66.4 91.22L66.72 88.18L67.24 85.61L67.97 83.37L68.91 81.38L70.06 79.61L71.41 78.06L72.97 76.72L74.75 75.59L76.76 74.66L79.02 73.93L81.61 73.42L84.68 73.1L89.5 73L94.32 73.1L97.39 73.42L99.98 73.93L102.24 74.66L104.25 75.59L106.03 76.72L107.59 78.06L108.94 79.61L110.09 81.38L111.03 83.37L111.76 85.61L112.28 88.18L112.6 91.22Z" fill="#2652ff"/>
<path d="M112.5 96L112.4 100.77L112.09 103.79L111.57 106.33L110.85 108.56L109.92 110.53L108.79 112.27L107.46 113.8L105.91 115.12L104.15 116.25L102.17 117.16L99.92 117.88L97.36 118.39L94.31 118.7L89.5 118.8L84.69 118.7L81.64 118.39L79.08 117.88L76.83 117.16L74.85 116.25L73.09 115.12L71.54 113.8L70.21 112.27L69.08 110.53L68.15 108.56L67.43 106.33L66.91 103.79L66.6 100.77L66.5 96L66.6 91.23L66.91 88.21L67.43 85.67L68.15 83.44L69.08 81.47L70.21 79.73L71.54 78.2L73.09 76.88L74.85 75.75L76.83 74.84L79.08 74.12L81.64 73.61L84.69 73.3L89.5 73.2L94.31 73.3L97.36 73.61L99.92 74.12L102.17 74.84L104.15 75.75L105.91 76.88L107.46 78.2L108.79 79.73L109.92 81.47L110.85 83.44L111.57 85.67L112.09 88.21L112.4 91.23Z" fill="#2038ff"/>
<path d="M111.85 96L111.75 100.69L111.45 103.63L110.95 106.09L110.26 108.24L109.37 110.14L108.28 111.82L106.99 113.29L105.5 114.57L103.8 115.64L101.88 116.53L99.7 117.21L97.21 117.71L94.24 118L89.5 118.1L84.76 118L81.79 117.71L79.3 117.21L77.12 116.53L75.2 115.64L73.5 114.57L72.01 113.29L70.72 111.82L69.63 110.14L68.74 108.24L68.05 106.09L67.55 103.63L67.25 100.69L67.15 96L67.25 91.31L67.55 88.37L68.05 85.91L68.74 83.76L69.63 81.86L70.72 80.18L72.01 78.71L73.5 77.43L75.2 76.36L77.12 75.47L79.3 74.79L81.79 74.29L84.76 74L89.5 73.9L94.24 74L97.21 74.29L99.7 74.79L101.88 75.47L103.8 76.36L105.5 77.43L106.99 78.71L108.28 80.18L109.37 81.86L110.26 83.76L110.95 85.91L111.45 88.37L111.75 91.31Z" fill="#202aff"/>
<path d="M111.2 96L111.1 100.6L110.82 103.45L110.34 105.84L109.67 107.91L108.81 109.74L107.76 111.36L106.52 112.78L105.08 114.01L103.44 115.04L101.58 115.89L99.47 116.55L97.06 117.02L94.17 117.31L89.5 117.4L84.83 117.31L81.94 117.02L79.53 116.55L77.42 115.89L75.56 115.04L73.92 114.01L72.48 112.78L71.24 111.36L70.19 109.74L69.33 107.91L68.66 105.84L68.18 103.45L67.9 100.6L67.8 96L67.9 91.4L68.18 88.55L68.66 86.16L69.33 84.09L70.19 82.26L71.24 80.64L72.48 79.22L73.92 77.99L75.56 76.96L77.42 76.11L79.53 75.45L81.94 74.98L84.83 74.69L89.5 74.6L94.17 74.69L97.06 74.98L99.47 75.45L101.58 76.11L103.44 76.96L105.08 77.99L106.52 79.22L107.76 80.64L108.81 82.26L109.67 84.09L110.34 86.16L110.82 88.55L111.1 91.4Z" fill="#211cff"/>
<path d="M110.55 96L110.46 100.51L110.18 103.28L109.72 105.58L109.08 107.58L108.25 109.34L107.24 110.9L106.04 112.27L104.65 113.44L103.07 114.44L101.28 115.25L99.24 115.88L96.9 116.34L94.09 116.61L89.5 116.7L84.91 116.61L82.1 116.34L79.76 115.88L77.72 115.25L75.93 114.44L74.35 113.44L72.96 112.27L71.76 110.9L70.75 109.34L69.92 107.58L69.28 105.58L68.82 103.28L68.54 100.51L68.45 96L68.54 91.49L68.82 88.72L69.28 86.42L69.92 84.42L70.75 82.66L71.76 81.1L72.96 79.73L74.35 78.56L75.93 77.56L77.72 76.75L79.76 76.12L82.1 75.66L84.91 75.39L89.5 75.3L94.09 75.39L96.9 75.66L99.24 76.12L101.28 76.75L103.07 77.56L104.65 78.56L106.04 79.73L107.24 81.1L108.25 82.66L109.08 84.42L109.72 86.42L110.18 88.72L110.46 91.49Z" fill="#220eff"/>
<path d="M109.9 96L109.81 100.42L109.55 103.09L109.1 105.32L108.48 107.24L107.69 108.94L106.72 110.44L105.56 111.75L104.23 112.88L102.7 113.83L100.97 114.61L99 115.22L96.74 115.65L94.01 115.91L89.5 116L84.99 115.91L82.26 115.65L80 115.22L78.03 114.61L76.3 113.83L74.77 112.88L73.44 111.75L72.28 110.44L71.31 108.94L70.52 107.24L69.9 105.32L69.45 103.09L69.19 100.42L69.1 96L69.19 91.58L69.45 88.91L69.9 86.68L70.52 84.76L71.31 83.06L72.28 81.56L73.44 80.25L74.77 79.12L76.3 78.17L78.03 77.39L80 76.78L82.26 76.35L84.99 76.09L89.5 76L94.01 76.09L96.74 76.35L99 76.78L100.97 77.39L102.7 78.17L104.23 79.12L105.56 80.25L106.72 81.56L107.69 83.06L108.48 84.76L109.1 86.68L109.55 88.91L109.81 91.58Z" fill="#2200ff"/>
<path d="M109.65 96L109.56 100.41L109.3 103.05L108.87 105.24L108.26 107.13L107.48 108.8L106.53 110.26L105.4 111.54L104.09 112.65L102.59 113.58L100.88 114.34L98.95 114.94L96.71 115.36L94.01 115.62L89.5 115.7L84.99 115.62L82.29 115.36L80.05 114.94L78.12 114.34L76.41 113.58L74.91 112.65L73.6 111.54L72.47 110.26L71.52 108.8L70.74 107.13L70.13 105.24L69.7 103.05L69.44 100.41L69.35 96L69.44 91.59L69.7 88.95L70.13 86.76L70.74 84.87L71.52 83.2L72.47 81.74L73.6 80.46L74.91 79.35L76.41 78.42L78.12 77.66L80.05 77.06L82.29 76.64L84.99 76.38L89.5 76.3L94.01 76.38L96.71 76.64L98.95 77.06L100.88 77.66L102.59 78.42L104.09 79.35L105.4 80.46L106.53 81.74L107.48 83.2L108.26 84.87L108.87 86.76L109.3 88.95L109.56 91.59Z" fill="#2c00fc"/>
<path d="M109.4 96L109.32 100.4L109.06 103L108.64 105.15L108.04 107.01L107.28 108.65L106.34 110.08L105.23 111.34L103.95 112.42L102.47 113.33L100.8 114.08L98.89 114.66L96.68 115.07L94.01 115.32L89.5 115.4L84.99 115.32L82.32 115.07L80.11 114.66L78.2 114.08L76.53 113.33L75.05 112.42L73.77 111.34L72.66 110.08L71.72 108.65L70.96 107.01L70.36 105.15L69.94 103L69.68 100.4L69.6 96L69.68 91.6L69.94 89L70.36 86.85L70.96 84.99L71.72 83.35L72.66 81.92L73.77 80.66L75.05 79.58L76.53 78.67L78.2 77.92L80.11 77.34L82.32 76.93L84.99 76.68L89.5 76.6L94.01 76.68L96.68 76.93L98.89 77.34L100.8 77.92L102.47 78.67L103.95 79.58L105.23 80.66L106.34 81.92L107.28 83.35L108.04 84.99L108.64 86.85L109.06 89L109.32 91.6Z" fill="#3600fa"/>
<path d="M109.15 96L109.07 100.38L108.82 102.95L108.4 105.07L107.82 106.9L107.07 108.5L106.15 109.9L105.07 111.13L103.8 112.19L102.36 113.08L100.71 113.81L98.83 114.37L96.66 114.78L94.01 115.02L89.5 115.1L84.99 115.02L82.34 114.78L80.17 114.37L78.29 113.81L76.64 113.08L75.2 112.19L73.93 111.13L72.85 109.9L71.93 108.5L71.18 106.9L70.6 105.07L70.18 102.95L69.93 100.38L69.85 96L69.93 91.62L70.18 89.05L70.6 86.93L71.18 85.1L71.93 83.5L72.85 82.1L73.93 80.87L75.2 79.81L76.64 78.92L78.29 78.19L80.17 77.63L82.34 77.22L84.99 76.98L89.5 76.9L94.01 76.98L96.66 77.22L98.83 77.63L100.71 78.19L102.36 78.92L103.8 79.81L105.07 80.87L106.15 82.1L107.07 83.5L107.82 85.1L108.4 86.93L108.82 89.05L109.07 91.62Z" fill="#4000f7"/>
<path d="M108.9 96L108.82 100.37L108.57 102.9L108.17 104.98L107.6 106.77L106.86 108.34L105.96 109.72L104.9 110.92L103.66 111.96L102.24 112.83L100.62 113.54L98.77 114.09L96.62 114.48L94.01 114.72L89.5 114.8L84.99 114.72L82.38 114.48L80.23 114.09L78.38 113.54L76.76 112.83L75.34 111.96L74.1 110.92L73.04 109.72L72.14 108.34L71.4 106.77L70.83 104.98L70.43 102.9L70.18 100.37L70.1 96L70.18 91.63L70.43 89.1L70.83 87.02L71.4 85.23L72.14 83.66L73.04 82.28L74.1 81.08L75.34 80.04L76.76 79.17L78.38 78.46L80.23 77.91L82.38 77.52L84.99 77.28L89.5 77.2L94.01 77.28L96.62 77.52L98.77 77.91L100.62 78.46L102.24 79.17L103.66 80.04L104.9 81.08L105.96 82.28L106.86 83.66L107.6 85.23L108.17 87.02L108.57 89.1L108.82 91.63Z" fill="#4a00f4"/>
<path d="M108.7 96L108.62 100.43L108.38 102.94L107.99 105L107.43 106.76L106.72 108.3L105.84 109.65L104.8 110.82L103.59 111.83L102.19 112.68L100.6 113.37L98.79 113.91L96.67 114.29L94.07 114.52L89.5 114.6L84.93 114.52L82.33 114.29L80.21 113.91L78.4 113.37L76.81 112.68L75.41 111.83L74.2 110.82L73.16 109.65L72.28 108.3L71.57 106.76L71.01 105L70.62 102.94L70.38 100.43L70.3 96L70.38 91.57L70.62 89.06L71.01 87L71.57 85.24L72.28 83.7L73.16 82.35L74.2 81.18L75.41 80.17L76.81 79.32L78.4 78.63L80.21 78.09L82.33 77.71L84.93 77.48L89.5 77.4L94.07 77.48L96.67 77.71L98.79 78.09L100.6 78.63L102.19 79.32L103.59 80.17L104.8 81.18L105.84 82.35L106.72 83.7L107.43 85.24L107.99 87L108.38 89.06L108.62 91.57Z" fill="#5a0ff1"/>
<path d="M108.5 96L108.42 100.48L108.19 102.98L107.81 105L107.26 106.74L106.57 108.25L105.71 109.57L104.69 110.71L103.51 111.7L102.15 112.53L100.59 113.2L98.8 113.73L96.71 114.1L94.13 114.33L89.5 114.4L84.87 114.33L82.29 114.1L80.2 113.73L78.41 113.2L76.85 112.53L75.49 111.7L74.31 110.71L73.29 109.57L72.43 108.25L71.74 106.74L71.19 105L70.81 102.98L70.58 100.48L70.5 96L70.58 91.52L70.81 89.02L71.19 87L71.74 85.26L72.43 83.75L73.29 82.43L74.31 81.29L75.49 80.3L76.85 79.47L78.41 78.8L80.2 78.27L82.29 77.9L84.87 77.67L89.5 77.6L94.13 77.67L96.71 77.9L98.8 78.27L100.59 78.8L102.15 79.47L103.51 80.3L104.69 81.29L105.71 82.43L106.57 83.75L107.26 85.26L107.81 87L108.19 89.02L108.42 91.52Z" fill="#6b1eee"/>
<path d="M108.3 96L108.22 100.53L108 103.01L107.62 105.01L107.1 106.71L106.42 108.19L105.58 109.48L104.59 110.61L103.43 111.57L102.09 112.38L100.56 113.03L98.8 113.54L96.74 113.91L94.18 114.13L89.5 114.2L84.82 114.13L82.26 113.91L80.2 113.54L78.44 113.03L76.91 112.38L75.57 111.57L74.41 110.61L73.42 109.48L72.58 108.19L71.9 106.71L71.38 105.01L71 103.01L70.78 100.53L70.7 96L70.78 91.47L71 88.99L71.38 86.99L71.9 85.29L72.58 83.81L73.42 82.52L74.41 81.39L75.57 80.43L76.91 79.62L78.44 78.97L80.2 78.46L82.26 78.09L84.82 77.87L89.5 77.8L94.18 77.87L96.74 78.09L98.8 78.46L100.56 78.97L102.09 79.62L103.43 80.43L104.59 81.39L105.58 82.52L106.42 83.81L107.1 85.29L107.62 86.99L108 88.99L108.22 91.47Z" fill="#7c2deb"/>
<path d="M108.1 96L108.03 100.58L107.81 103.04L107.44 105.01L106.93 106.68L106.26 108.13L105.45 109.4L104.48 110.49L103.34 111.43L102.04 112.22L100.54 112.86L98.81 113.36L96.77 113.72L94.23 113.93L89.5 114L84.77 113.93L82.23 113.72L80.19 113.36L78.46 112.86L76.96 112.22L75.66 111.43L74.52 110.49L73.55 109.4L72.74 108.13L72.07 106.68L71.56 105.01L71.19 103.04L70.97 100.58L70.9 96L70.97 91.42L71.19 88.96L71.56 86.99L72.07 85.32L72.74 83.87L73.55 82.6L74.52 81.51L75.66 80.57L76.96 79.78L78.46 79.14L80.19 78.64L82.23 78.28L84.77 78.07L89.5 78L94.23 78.07L96.77 78.28L98.81 78.64L100.54 79.14L102.04 79.78L103.34 80.57L104.48 81.51L105.45 82.6L106.26 83.87L106.93 85.32L107.44 86.99L107.81 88.96L108.03 91.42Z" fill="#8c3ce8"/>
<path d="M107.85 96L107.78 100.61L107.57 103.04L107.21 104.98L106.71 106.62L106.06 108.04L105.27 109.27L104.33 110.34L103.22 111.26L101.94 112.02L100.48 112.65L98.78 113.13L96.78 113.47L94.27 113.68L89.5 113.75L84.73 113.68L82.22 113.47L80.22 113.13L78.52 112.65L77.06 112.02L75.78 111.26L74.67 110.34L73.73 109.27L72.94 108.04L72.29 106.62L71.79 104.98L71.43 103.04L71.22 100.61L71.15 96L71.22 91.39L71.43 88.96L71.79 87.02L72.29 85.38L72.94 83.96L73.73 82.73L74.67 81.66L75.78 80.74L77.06 79.98L78.52 79.35L80.22 78.87L82.22 78.53L84.73 78.32L89.5 78.25L94.27 78.32L96.78 78.53L98.78 78.87L100.48 79.35L101.94 79.98L103.22 80.74L104.33 81.66L105.27 82.73L106.06 83.96L106.71 85.38L107.21 87.02L107.57 88.96L107.78 91.39Z" fill="#c69ef4"/>
<path d="M107.6 96L107.53 100.64L107.32 103.04L106.98 104.94L106.49 106.55L105.86 107.94L105.09 109.14L104.17 110.18L103.09 111.08L101.85 111.82L100.41 112.43L98.75 112.9L96.78 113.23L94.3 113.43L89.5 113.5L84.7 113.43L82.22 113.23L80.25 112.9L78.59 112.43L77.15 111.82L75.91 111.08L74.83 110.18L73.91 109.14L73.14 107.94L72.51 106.55L72.02 104.94L71.68 103.04L71.47 100.64L71.4 96L71.47 91.36L71.68 88.96L72.02 87.06L72.51 85.45L73.14 84.06L73.91 82.86L74.83 81.82L75.91 80.92L77.15 80.18L78.59 79.57L80.25 79.1L82.22 78.77L84.7 78.57L89.5 78.5L94.3 78.57L96.78 78.77L98.75 79.1L100.41 79.57L101.85 80.18L103.09 80.92L104.17 81.82L105.09 82.86L105.86 84.06L106.49 85.45L106.98 87.06L107.32 88.96L107.53 91.36Z" fill="#ffffff"/>
</g>
<path class="g" d="M89.5 79V113 M72.5 96H106.5"/>
<path d="M52.9 71A38 38 0 0 1 67.9 57.8M52.9 121A38 38 0 0 0 67.9 134.2M126.1 71A38 38 0 0 0 111.1 57.8M126.1 121A38 38 0 0 1 111.1 134.2" fill="none" stroke="#ff9a18" stroke-width="1" stroke-linecap="round" filter="url(#bl03)"/>
<path class="ax" d="M43.6 50.4H135.2 M43.6 50.4V141.6M43.7 50.4v3.2M43.6 141.6h3.2M50.24 50.4v3.2M43.6 135.09h3.2M56.79 50.4v6.5M43.6 128.57h6.5M63.33 50.4v3.2M43.6 122.06h3.2M69.87 50.4v3.2M43.6 115.54h3.2M76.41 50.4v3.2M43.6 109.03h3.2M82.96 50.4v3.2M43.6 102.51h3.2M89.5 50.4v6.5M43.6 96h6.5M96.04 50.4v3.2M43.6 89.49h3.2M102.59 50.4v3.2M43.6 82.97h3.2M109.13 50.4v3.2M43.6 76.46h3.2M115.67 50.4v3.2M43.6 69.94h3.2M122.21 50.4v6.5M43.6 63.43h6.5M128.76 50.4v3.2M43.6 56.91h3.2M135.3 50.4v3.2M43.6 50.4h3.2"/>
<path class="ax" d="M181 50.4H272.4 M272.4 50.4V141.6M184.5 50.4v6.8M203.9 50.4v6.8M223.3 50.4v6.8M242.7 50.4v6.8M262.1 50.4v6.8M272.4 141.6h-3.5M272.4 135.09h-3.5M272.4 128.57h-7M272.4 122.06h-3.5M272.4 115.54h-3.5M272.4 109.03h-3.5M272.4 102.51h-3.5M272.4 96h-7M272.4 89.49h-3.5M272.4 82.97h-3.5M272.4 76.46h-3.5M272.4 69.94h-3.5M272.4 63.43h-7M272.4 56.91h-3.5M272.4 50.4h-3.5"/>
<path class="ax" d="M43.6 187.5V278.1 M43.6 278.1H135.2M43.6 191.3h7M43.6 210.7h7M43.6 230.1h7M43.6 249.5h7M43.6 268.9h7M43.7 278.1v-3.2M50.24 278.1v-3.2M56.79 278.1v-7M63.33 278.1v-3.2M69.87 278.1v-3.2M76.41 278.1v-3.2M82.96 278.1v-3.2M89.5 278.1v-7M96.04 278.1v-3.2M102.59 278.1v-3.2M109.13 278.1v-3.2M115.67 278.1v-3.2M122.21 278.1v-7M128.76 278.1v-3.2M135.3 278.1v-3.2"/>
<path d="M184.9 57.1C185.28 56.62 186.27 54.85 187.2 54.2C188.13 53.55 189.38 53.2 190.5 53.2C191.62 53.2 192.77 53.67 193.9 54.2C195.03 54.73 196.1 55.55 197.3 56.4C198.5 57.25 199.98 58.5 201.1 59.3C202.22 60.1 202.87 60.48 204 61.2C205.13 61.92 206.45 62.87 207.9 63.6C209.35 64.33 211.18 65.03 212.7 65.6C214.22 66.17 215.18 66.42 217 67C218.82 67.58 221.13 68.48 223.6 69.1C226.07 69.72 229.07 70.22 231.8 70.7C234.53 71.18 236.67 71.45 240 72C243.33 72.55 248.6 73.43 251.8 74C255 74.57 256.38 74.83 259.2 75.4C262.02 75.97 267.12 77.07 268.7 77.4L268.7 115.3C267.42 115.78 263.57 117.28 261 118.2C258.43 119.12 256.4 120 253.3 120.8C250.2 121.6 245.28 122.5 242.4 123C239.52 123.5 238.73 123.43 236 123.8C233.27 124.17 229 124.78 226 125.2C223 125.62 220.22 125.87 218 126.3C215.78 126.73 214.22 127.3 212.7 127.8C211.18 128.3 210.27 128.67 208.9 129.3C207.53 129.93 205.8 130.85 204.5 131.6C203.2 132.35 202.3 133 201.1 133.8C199.9 134.6 198.5 135.63 197.3 136.4C196.1 137.17 195.03 137.97 193.9 138.4C192.77 138.83 191.62 139.12 190.5 139C189.38 138.88 188.13 138.4 187.2 137.7C186.27 137 185.28 135.28 184.9 134.8" fill="none" stroke="#1010f0" stroke-width="2.4" stroke-linejoin="miter" stroke-linecap="butt"/>
<path d="M185 96.4C188.33 96.48 198.33 96.73 205 96.9C211.67 97.07 218.33 97.23 225 97.4C231.67 97.57 239.5 97.82 245 97.9C250.5 97.98 254.83 98.02 258 97.9C261.17 97.78 262.33 97.52 264 97.2C265.67 96.88 267.33 96.2 268 96" fill="none" stroke="#3030f0" stroke-width="0.9" stroke-dasharray="4.2 3.3"/>
<path d="M52.2 191.5C51.82 191.85 50.43 192.72 49.9 193.6C49.37 194.48 48.97 195.68 49 196.8C49.03 197.92 49.52 198.97 50.1 200.3C50.68 201.63 51.62 203.25 52.5 204.8C53.38 206.35 54.52 208.07 55.4 209.6C56.28 211.13 56.83 212.1 57.8 214C58.77 215.9 60.18 218.23 61.2 221C62.22 223.77 63.2 227.12 63.9 230.6C64.6 234.08 65 238.42 65.4 241.9C65.8 245.38 65.9 248.28 66.3 251.5C66.7 254.72 67.22 258.25 67.8 261.2C68.38 264.15 69.23 266.95 69.8 269.2C70.37 271.45 70.97 273.78 71.2 274.7L110.84 274.7C111.02 273.78 111.47 271.45 111.9 269.2C112.32 266.95 112.99 264.15 113.39 261.2C113.79 258.25 114.08 254.72 114.28 251.5C114.48 248.28 114.34 245.38 114.57 241.9C114.81 238.42 115.06 234.08 115.7 230.6C116.34 227.12 117.38 223.77 118.4 221C119.42 218.23 120.83 215.9 121.8 214C122.77 212.1 123.32 211.13 124.2 209.6C125.08 208.07 126.22 206.35 127.1 204.8C127.98 203.25 128.92 201.63 129.5 200.3C130.08 198.97 130.57 197.92 130.6 196.8C130.63 195.68 130.23 194.48 129.7 193.6C129.17 192.72 127.78 191.85 127.4 191.5" fill="none" stroke="#e02a2a" stroke-width="2.4" stroke-linejoin="miter" stroke-linecap="butt"/>
<path d="M89.6 190.5L90.1 275" fill="none" stroke="#e83030" stroke-width="1.1" stroke-dasharray="4.6 2.6"/>
<text class="h" x="27.6" y="11.2" text-anchor="start">(a)</text>
<text class="h" x="373.3" y="10.5" text-anchor="start">(b)</text>
<text class="s" x="89.5" y="28" text-anchor="middle"><tspan class="i">X</tspan> (nm)</text>
<text class="s" x="57" y="43.8" text-anchor="middle">-50</text>
<text class="s" x="89" y="43.8" text-anchor="middle">0</text>
<text class="s" x="122" y="43.8" text-anchor="middle">50</text>
<text class="s" x="39.5" y="66.8" text-anchor="end">50</text>
<text class="s" x="39.2" y="100" text-anchor="end">0</text>
<text class="s" x="39.5" y="131.8" text-anchor="end">-50</text>
<text class="s" text-anchor="middle" transform="translate(11.4 95.8) rotate(-90)"><tspan class="i">Y</tspan> (nm)</text>
<text class="s" x="226.2" y="28" text-anchor="middle">Depth from the surface (μm)</text>
<text class="s" x="183.9" y="43.5" text-anchor="middle">0</text>
<text class="s" x="203.3" y="43.5" text-anchor="middle">1</text>
<text class="s" x="222.7" y="43.5" text-anchor="middle">2</text>
<text class="s" x="242.1" y="43.5" text-anchor="middle">3</text>
<text class="s" x="261.5" y="43.5" text-anchor="middle">4</text>
<text class="s" x="280.2" y="66.8" text-anchor="start">50</text>
<text class="s" x="280.4" y="99.4" text-anchor="start">0</text>
<text class="s" x="276.3" y="131.7" text-anchor="start">-50</text>
<text class="s" text-anchor="middle" transform="translate(305 95.8) rotate(90)"><tspan class="i">Y</tspan> (nm)</text>
<text class="s" x="39.6" y="194.9" text-anchor="end">0</text>
<text class="s" x="39.6" y="214.3" text-anchor="end">1</text>
<text class="s" x="39.6" y="233.7" text-anchor="end">2</text>
<text class="s" x="39.6" y="253.1" text-anchor="end">3</text>
<text class="s" x="39.6" y="272.5" text-anchor="end">4</text>
<text class="s" x="56.4" y="292.8" text-anchor="middle">-50</text>
<text class="s" x="88.9" y="292.8" text-anchor="middle">0</text>
<text class="s" x="122.3" y="292.8" text-anchor="middle">50</text>
<text class="s" x="89.4" y="307.2" text-anchor="middle"><tspan class="i">X</tspan> (nm)</text>
<text class="s" text-anchor="middle" transform="translate(11 230.8) rotate(-90)">Depth from the surface (μm)</text>
<text class="b" x="463" y="37.3" text-anchor="start" style="font-size:15.8px">Wafer surface</text>
<text class="b" x="476.9" y="306.9" text-anchor="start">Substrate</text>
<path d="M506.8 50V284" stroke="#111" stroke-width="0.9" fill="none"/>
<path d="M506.8 45.4L509.6 51.6H504L506.8 45.4Z M506.8 288.4L509.6 282.6H504L506.8 288.4Z" fill="#111"/>
<defs>
<clipPath id="cupclip"><path d="M418.2 43.5C413.88 43.45 411.78 44.02 409 44.3C406.22 44.58 404 44.75 401.5 45.2C399 45.65 396.15 46.43 394 47C391.85 47.57 390.44 47.95 388.6 48.6C386.76 49.25 384.71 50.07 382.99 50.9C381.26 51.73 379.66 52.62 378.22 53.6C376.78 54.58 375.48 55.73 374.33 56.8C373.19 57.87 372.32 58.87 371.34 60C370.36 61.13 369.3 62.4 368.43 63.6C367.57 64.8 366.94 65.72 366.13 67.2C365.33 68.68 364.29 70.78 363.6 72.5C362.91 74.22 362.45 75.75 362 77.5C361.55 79.25 361.14 81.25 360.93 83C360.71 84.75 360.69 86.25 360.7 88C360.72 89.75 360.82 91.67 361.02 93.5C361.21 95.33 361.44 96.92 361.88 99C362.31 101.08 362.92 103.67 363.61 106C364.3 108.33 365.13 110.67 365.99 113C366.86 115.33 367.88 117.67 368.8 120C369.71 122.33 370.28 123.33 371.48 127C372.68 130.67 374.58 136.83 376 142C377.42 147.17 378.78 152.67 380 158C381.22 163.33 382.25 168.67 383.3 174C384.35 179.33 385.42 184.83 386.3 190C387.18 195.17 387.95 200 388.6 205C389.25 210 389.63 214.83 390.2 220C390.77 225.17 391.43 230.67 392 236C392.57 241.33 393.07 247 393.6 252C394.13 257 394.6 261.67 395.2 266C395.8 270.33 396.53 274.67 397.2 278C397.87 281.33 398.47 283.67 399.2 286C399.93 288.33 400.53 290.23 401.6 292C402.67 293.77 403.95 295.28 405.6 296.6C407.25 297.92 409.22 299.13 411.5 299.9C413.78 300.67 416.72 301.17 419.3 301.2C421.88 301.23 424.55 300.83 427 300.1C429.45 299.37 432.07 298.15 434 296.8C435.93 295.45 437.4 293.8 438.6 292C439.8 290.2 440.4 288.33 441.2 286C442 283.67 442.72 281.33 443.4 278C444.08 274.67 444.73 270.33 445.3 266C445.87 261.67 446.32 257 446.8 252C447.28 247 447.73 241.33 448.2 236C448.67 230.67 449.13 225.17 449.6 220C450.07 214.83 450.4 210 451 205C451.6 200 452.2 195.17 453.2 190C454.2 184.83 455.6 179.33 457 174C458.4 168.67 460.1 163.33 461.6 158C463.1 152.67 464.59 147.17 466 142C467.41 136.83 468.96 130.67 470.04 127C471.11 123.33 471.62 122.33 472.43 120C473.23 117.67 474.04 115.33 474.86 113C475.68 110.67 476.62 108.33 477.35 106C478.08 103.67 478.77 101.08 479.24 99C479.71 96.92 479.96 95.33 480.17 93.5C480.38 91.67 480.52 89.83 480.5 88C480.48 86.17 480.32 84.42 480.03 82.5C479.74 80.58 479.29 78.45 478.75 76.5C478.21 74.55 477.52 72.62 476.79 70.8C476.07 68.98 475.22 67.13 474.4 65.6C473.58 64.07 472.78 62.87 471.85 61.6C470.92 60.33 469.93 59.1 468.83 58C467.73 56.9 466.59 55.97 465.25 55C463.91 54.03 462.33 53.03 460.79 52.2C459.25 51.37 457.73 50.7 456 50C454.27 49.3 452.57 48.67 450.4 48C448.23 47.33 445.58 46.57 443 46C440.42 45.43 439.03 45.02 434.9 44.6C430.77 44.18 422.52 43.55 418.2 43.5Z"/></clipPath>
<linearGradient id="bodyg" x1="0" y1="0" x2="0" y2="1"><stop offset="0" stop-color="#68c4ae"/><stop offset="0.3" stop-color="#5db7a2"/><stop offset="1" stop-color="#55af9a"/></linearGradient>
<radialGradient id="hl" cx="0.5" cy="0.5" r="0.5"><stop offset="0" stop-color="#9cfff6" stop-opacity="1"/><stop offset="0.3" stop-color="#8cf6ea" stop-opacity="0.9"/><stop offset="0.65" stop-color="#78e2d0" stop-opacity="0.45"/><stop offset="1" stop-color="#6ccab4" stop-opacity="0"/></radialGradient>
<pattern id="stri" x="0" y="0" width="8" height="2.4" patternUnits="userSpaceOnUse"><rect x="0" y="0" width="8" height="0.8" fill="#2f7f6e" opacity="0.07"/></pattern>
<linearGradient id="bandg" x1="0" y1="0" x2="0" y2="1"><stop offset="0" stop-color="#7cdcc8"/><stop offset="0.35" stop-color="#6ccab4"/><stop offset="1" stop-color="#66c4ac"/></linearGradient>
<linearGradient id="inner" x1="0" y1="0" x2="0" y2="1"><stop offset="0" stop-color="#46957f"/><stop offset="0.5" stop-color="#55a896"/><stop offset="1" stop-color="#62b9a4"/></linearGradient>
</defs>
<g clip-path="url(#cupclip)">
<rect x="355" y="38" width="130" height="268" fill="url(#bodyg)"/>
<path d="M418.2 43.5C413.88 43.45 411.78 44.02 409 44.3C406.22 44.58 404 44.75 401.5 45.2C399 45.65 396.15 46.43 394 47C391.85 47.57 390.44 47.95 388.6 48.6C386.76 49.25 384.71 50.07 382.99 50.9C381.26 51.73 379.66 52.62 378.22 53.6C376.78 54.58 375.48 55.73 374.33 56.8C373.19 57.87 372.32 58.87 371.34 60C370.36 61.13 369.3 62.4 368.43 63.6C367.57 64.8 366.94 65.72 366.13 67.2C365.33 68.68 364.29 70.78 363.6 72.5C362.91 74.22 362.45 75.75 362 77.5C361.55 79.25 361.14 81.25 360.93 83C360.71 84.75 360.69 86.25 360.7 88C360.72 89.75 360.82 91.67 361.02 93.5C361.21 95.33 361.44 96.92 361.88 99C362.31 101.08 362.92 103.67 363.61 106C364.3 108.33 365.13 110.67 365.99 113C366.86 115.33 367.88 117.67 368.8 120C369.71 122.33 370.28 123.33 371.48 127C372.68 130.67 374.58 136.83 376 142C377.42 147.17 378.78 152.67 380 158C381.22 163.33 382.25 168.67 383.3 174C384.35 179.33 385.42 184.83 386.3 190C387.18 195.17 387.95 200 388.6 205C389.25 210 389.63 214.83 390.2 220C390.77 225.17 391.43 230.67 392 236C392.57 241.33 393.07 247 393.6 252C394.13 257 394.6 261.67 395.2 266C395.8 270.33 396.53 274.67 397.2 278C397.87 281.33 398.47 283.67 399.2 286C399.93 288.33 400.53 290.23 401.6 292C402.67 293.77 403.95 295.28 405.6 296.6C407.25 297.92 409.22 299.13 411.5 299.9C413.78 300.67 416.72 301.17 419.3 301.2C421.88 301.23 424.55 300.83 427 300.1C429.45 299.37 432.07 298.15 434 296.8C435.93 295.45 437.4 293.8 438.6 292C439.8 290.2 440.4 288.33 441.2 286C442 283.67 442.72 281.33 443.4 278C444.08 274.67 444.73 270.33 445.3 266C445.87 261.67 446.32 257 446.8 252C447.28 247 447.73 241.33 448.2 236C448.67 230.67 449.13 225.17 449.6 220C450.07 214.83 450.4 210 451 205C451.6 200 452.2 195.17 453.2 190C454.2 184.83 455.6 179.33 457 174C458.4 168.67 460.1 163.33 461.6 158C463.1 152.67 464.59 147.17 466 142C467.41 136.83 468.96 130.67 470.04 127C471.11 123.33 471.62 122.33 472.43 120C473.23 117.67 474.04 115.33 474.86 113C475.68 110.67 476.62 108.33 477.35 106C478.08 103.67 478.77 101.08 479.24 99C479.71 96.92 479.96 95.33 480.17 93.5C480.38 91.67 480.52 89.83 480.5 88C480.48 86.17 480.32 84.42 480.03 82.5C479.74 80.58 479.29 78.45 478.75 76.5C478.21 74.55 477.52 72.62 476.79 70.8C476.07 68.98 475.22 67.13 474.4 65.6C473.58 64.07 472.78 62.87 471.85 61.6C470.92 60.33 469.93 59.1 468.83 58C467.73 56.9 466.59 55.97 465.25 55C463.91 54.03 462.33 53.03 460.79 52.2C459.25 51.37 457.73 50.7 456 50C454.27 49.3 452.57 48.67 450.4 48C448.23 47.33 445.58 46.57 443 46C440.42 45.43 439.03 45.02 434.9 44.6C430.77 44.18 422.52 43.55 418.2 43.5Z" fill="none" stroke="#4a9f8c" stroke-width="11" filter="url(#bl3)" opacity="0.55"/>
<path d="M397.5 70C390.58 73.33 399.18 83.33 400 90C400.82 96.67 401.48 102.5 402.4 110C403.32 117.5 404.53 127 405.5 135C406.47 143 407.55 149.67 408.2 158C408.85 166.33 409.13 176.33 409.4 185C409.67 193.67 409.62 199.17 409.8 210C409.98 220.83 410.13 235 410.5 250C410.87 265 409.25 291.67 412 300C414.75 308.33 424.53 308.33 427 300C429.47 291.67 426.97 265 426.8 250C426.63 235 425.88 220.83 426 210C426.12 199.17 426.93 193.67 427.5 185C428.07 176.33 428.58 166.33 429.4 158C430.22 149.67 431.33 143 432.4 135C433.47 127 434.78 117.5 435.8 110C436.82 102.5 437.55 96.67 438.5 90C439.45 83.33 448.33 73.33 441.5 70C434.67 66.67 404.42 66.67 397.5 70Z" fill="url(#bandg)" filter="url(#bl25)"/>
<path d="M397.8 90C398.2 93.33 399.28 102.5 400.2 110C401.12 117.5 402.33 127 403.3 135C404.27 143 405.35 149.67 406 158C406.65 166.33 406.93 176.33 407.2 185C407.47 193.67 407.42 199.17 407.6 210C407.78 220.83 407.93 235 408.3 250C408.67 265 409.55 291.67 409.8 300" fill="none" stroke="#43998a" stroke-width="2.4" filter="url(#bl08)" opacity="0.6"/>
<ellipse cx="418.5" cy="88" rx="37" ry="25" fill="url(#hl)"/>
<rect x="355" y="38" width="130" height="268" fill="url(#stri)"/>
<path d="M418.2 43.5C413.88 43.45 411.78 44.02 409 44.3C406.22 44.58 404 44.75 401.5 45.2C399 45.65 396.15 46.43 394 47C391.85 47.57 390.44 47.95 388.6 48.6C386.76 49.25 384.71 50.07 382.99 50.9C381.26 51.73 379.66 52.62 378.22 53.6C376.78 54.58 375.48 55.73 374.33 56.8C373.19 57.87 372.32 58.87 371.34 60C370.36 61.13 369.3 62.4 368.43 63.6C367.57 64.8 366.94 65.72 366.13 67.2C365.33 68.68 364.29 70.78 363.6 72.5C362.91 74.22 362.45 75.75 362 77.5C361.55 79.25 361.14 81.25 360.93 83C360.71 84.75 360.69 86.25 360.7 88C360.72 89.75 360.82 91.67 361.02 93.5C361.21 95.33 361.44 96.92 361.88 99C362.31 101.08 362.92 103.67 363.61 106C364.3 108.33 365.13 110.67 365.99 113C366.86 115.33 367.88 117.67 368.8 120C369.71 122.33 370.28 123.33 371.48 127C372.68 130.67 374.58 136.83 376 142C377.42 147.17 378.78 152.67 380 158C381.22 163.33 382.25 168.67 383.3 174C384.35 179.33 385.42 184.83 386.3 190C387.18 195.17 387.95 200 388.6 205C389.25 210 389.63 214.83 390.2 220C390.77 225.17 391.43 230.67 392 236C392.57 241.33 393.07 247 393.6 252C394.13 257 394.6 261.67 395.2 266C395.8 270.33 396.53 274.67 397.2 278C397.87 281.33 398.47 283.67 399.2 286C399.93 288.33 400.53 290.23 401.6 292C402.67 293.77 403.95 295.28 405.6 296.6C407.25 297.92 409.22 299.13 411.5 299.9C413.78 300.67 416.72 301.17 419.3 301.2C421.88 301.23 424.55 300.83 427 300.1C429.45 299.37 432.07 298.15 434 296.8C435.93 295.45 437.4 293.8 438.6 292C439.8 290.2 440.4 288.33 441.2 286C442 283.67 442.72 281.33 443.4 278C444.08 274.67 444.73 270.33 445.3 266C445.87 261.67 446.32 257 446.8 252C447.28 247 447.73 241.33 448.2 236C448.67 230.67 449.13 225.17 449.6 220C450.07 214.83 450.4 210 451 205C451.6 200 452.2 195.17 453.2 190C454.2 184.83 455.6 179.33 457 174C458.4 168.67 460.1 163.33 461.6 158C463.1 152.67 464.59 147.17 466 142C467.41 136.83 468.96 130.67 470.04 127C471.11 123.33 471.62 122.33 472.43 120C473.23 117.67 474.04 115.33 474.86 113C475.68 110.67 476.62 108.33 477.35 106C478.08 103.67 478.77 101.08 479.24 99C479.71 96.92 479.96 95.33 480.17 93.5C480.38 91.67 480.52 89.83 480.5 88C480.48 86.17 480.32 84.42 480.03 82.5C479.74 80.58 479.29 78.45 478.75 76.5C478.21 74.55 477.52 72.62 476.79 70.8C476.07 68.98 475.22 67.13 474.4 65.6C473.58 64.07 472.78 62.87 471.85 61.6C470.92 60.33 469.93 59.1 468.83 58C467.73 56.9 466.59 55.97 465.25 55C463.91 54.03 462.33 53.03 460.79 52.2C459.25 51.37 457.73 50.7 456 50C454.27 49.3 452.57 48.67 450.4 48C448.23 47.33 445.58 46.57 443 46C440.42 45.43 439.03 45.02 434.9 44.6C430.77 44.18 422.52 43.55 418.2 43.5Z" fill="none" stroke="#3f9885" stroke-width="3.4" filter="url(#bl08)" opacity="0.7"/>
<ellipse cx="420" cy="298" rx="17" ry="5" fill="#60c9b0" filter="url(#bl2)" opacity="0.9"/>
</g>
<path d="M371.9 60.2C372.47 59.2 373.93 57.5 375 56.4C376.07 55.3 376.97 54.52 378.3 53.6C379.63 52.68 381.28 51.73 383 50.9C384.72 50.07 386.77 49.25 388.6 48.6C390.43 47.95 391.85 47.57 394 47C396.15 46.43 399 45.65 401.5 45.2C404 44.75 406.22 44.58 409 44.3C411.78 44.02 415.2 43.57 418.2 43.5C421.2 43.43 424.22 43.72 427 43.9C429.78 44.08 432.23 44.25 434.9 44.6C437.57 44.95 440.42 45.43 443 46C445.58 46.57 448.23 47.33 450.4 48C452.57 48.67 454.28 49.3 456 50C457.72 50.7 459.2 51.37 460.7 52.2C462.2 53.03 463.68 53.97 465 55C466.32 56.03 467.77 57.23 468.6 58.4C469.43 59.57 470.03 60.6 470 62C469.97 63.4 469.4 65.27 468.4 66.8C467.4 68.33 465.73 69.83 464 71.2C462.27 72.57 460.33 73.83 458 75C455.67 76.17 453 77.27 450 78.2C447 79.13 443.33 80 440 80.6C436.67 81.2 433.42 81.53 430 81.8C426.58 82.07 423 82.23 419.5 82.2C416 82.17 412.42 81.93 409 81.6C405.58 81.27 402.17 80.87 399 80.2C395.83 79.53 392.67 78.6 390 77.6C387.33 76.6 385.08 75.43 383 74.2C380.92 72.97 379.1 71.6 377.5 70.2C375.9 68.8 374.38 67.1 373.4 65.8C372.42 64.5 371.85 63.33 371.6 62.4C371.35 61.47 371.33 61.2 371.9 60.2Z" fill="#7ad8c2"/>
<clipPath id="openclip"><path d="M373.8 61.6C374.25 60.75 375.57 59.61 376.6 58.73C377.63 57.85 378.48 57.15 380 56.34C381.52 55.54 383.7 54.65 385.7 53.89C387.7 53.14 389.85 52.41 392 51.8C394.15 51.19 396.43 50.72 398.6 50.23C400.77 49.75 402.85 49.29 405 48.87C407.15 48.45 409.3 47.99 411.5 47.71C413.7 47.44 415.78 47.24 418.2 47.2C420.62 47.17 423.37 47.3 426 47.5C428.63 47.7 431.33 48 434 48.39C436.67 48.79 439.33 49.29 442 49.86C444.67 50.43 447.67 51.17 450 51.81C452.33 52.44 454.17 53 456 53.69C457.83 54.38 459.5 55.14 461 55.94C462.5 56.75 463.87 57.65 465 58.53C466.13 59.41 467.37 60.19 467.8 61.2C468.23 62.21 468.15 63.47 467.6 64.6C467.05 65.73 465.93 66.8 464.5 68C463.07 69.2 461.08 70.63 459 71.8C456.92 72.97 454.83 74.03 452 75C449.17 75.97 445.5 76.93 442 77.6C438.5 78.27 434.75 78.7 431 79C427.25 79.3 423.33 79.43 419.5 79.4C415.67 79.37 411.48 79.13 408 78.8C404.52 78.47 401.52 78 398.6 77.4C395.68 76.8 392.77 75.97 390.5 75.2C388.23 74.43 386.83 73.77 385 72.8C383.17 71.83 381.07 70.57 379.5 69.4C377.93 68.23 376.53 66.73 375.6 65.8C374.67 64.87 374.2 64.5 373.9 63.8C373.6 63.1 373.35 62.45 373.8 61.6Z"/></clipPath>
<path d="M373.8 61.6C374.25 60.75 375.57 59.61 376.6 58.73C377.63 57.85 378.48 57.15 380 56.34C381.52 55.54 383.7 54.65 385.7 53.89C387.7 53.14 389.85 52.41 392 51.8C394.15 51.19 396.43 50.72 398.6 50.23C400.77 49.75 402.85 49.29 405 48.87C407.15 48.45 409.3 47.99 411.5 47.71C413.7 47.44 415.78 47.24 418.2 47.2C420.62 47.17 423.37 47.3 426 47.5C428.63 47.7 431.33 48 434 48.39C436.67 48.79 439.33 49.29 442 49.86C444.67 50.43 447.67 51.17 450 51.81C452.33 52.44 454.17 53 456 53.69C457.83 54.38 459.5 55.14 461 55.94C462.5 56.75 463.87 57.65 465 58.53C466.13 59.41 467.37 60.19 467.8 61.2C468.23 62.21 468.15 63.47 467.6 64.6C467.05 65.73 465.93 66.8 464.5 68C463.07 69.2 461.08 70.63 459 71.8C456.92 72.97 454.83 74.03 452 75C449.17 75.97 445.5 76.93 442 77.6C438.5 78.27 434.75 78.7 431 79C427.25 79.3 423.33 79.43 419.5 79.4C415.67 79.37 411.48 79.13 408 78.8C404.52 78.47 401.52 78 398.6 77.4C395.68 76.8 392.77 75.97 390.5 75.2C388.23 74.43 386.83 73.77 385 72.8C383.17 71.83 381.07 70.57 379.5 69.4C377.93 68.23 376.53 66.73 375.6 65.8C374.67 64.87 374.2 64.5 373.9 63.8C373.6 63.1 373.35 62.45 373.8 61.6Z" fill="url(#inner)"/>
<g clip-path="url(#openclip)">
<ellipse cx="380" cy="61" rx="11" ry="8" fill="#3b8475" filter="url(#bl3)" opacity="0.85"/>
<ellipse cx="461" cy="61" rx="11" ry="8" fill="#3b8475" filter="url(#bl3)" opacity="0.85"/>
<path d="M373.8 61.6C374.27 61.12 375.57 59.61 376.6 58.73C377.63 57.85 378.48 57.15 380 56.34C381.52 55.54 383.7 54.65 385.7 53.89C387.7 53.14 389.85 52.41 392 51.8C394.15 51.19 396.43 50.72 398.6 50.23C400.77 49.75 402.85 49.29 405 48.87C407.15 48.45 409.3 47.99 411.5 47.71C413.7 47.44 415.78 47.24 418.2 47.2C420.62 47.17 423.37 47.3 426 47.5C428.63 47.7 431.33 48 434 48.39C436.67 48.79 439.33 49.29 442 49.86C444.67 50.43 447.67 51.17 450 51.81C452.33 52.44 454.17 53 456 53.69C457.83 54.38 459.5 55.14 461 55.94C462.5 56.75 463.87 57.65 465 58.53C466.13 59.41 467.33 60.76 467.8 61.2" fill="none" stroke="#418c7e" stroke-width="3" filter="url(#bl2)" opacity="0.6"/>
<ellipse cx="420" cy="78.5" rx="19" ry="9" fill="#8ae6d4" filter="url(#bl3)" opacity="0.9"/>
</g>
<path d="M467.8 61.2C467.77 61.77 468.15 63.47 467.6 64.6C467.05 65.73 465.93 66.8 464.5 68C463.07 69.2 461.08 70.63 459 71.8C456.92 72.97 454.83 74.03 452 75C449.17 75.97 445.5 76.93 442 77.6C438.5 78.27 434.75 78.7 431 79C427.25 79.3 423.33 79.43 419.5 79.4C415.67 79.37 411.48 79.13 408 78.8C404.52 78.47 401.52 78 398.6 77.4C395.68 76.8 392.77 75.97 390.5 75.2C388.23 74.43 386.83 73.77 385 72.8C383.17 71.83 381.07 70.57 379.5 69.4C377.93 68.23 376.53 66.73 375.6 65.8C374.67 64.87 374.2 64.5 373.9 63.8C373.6 63.1 373.82 61.97 373.8 61.6" fill="none" stroke="#4fa794" stroke-width="0.8" filter="url(#bl1)" opacity="0.55"/>
</svg></body></html>
